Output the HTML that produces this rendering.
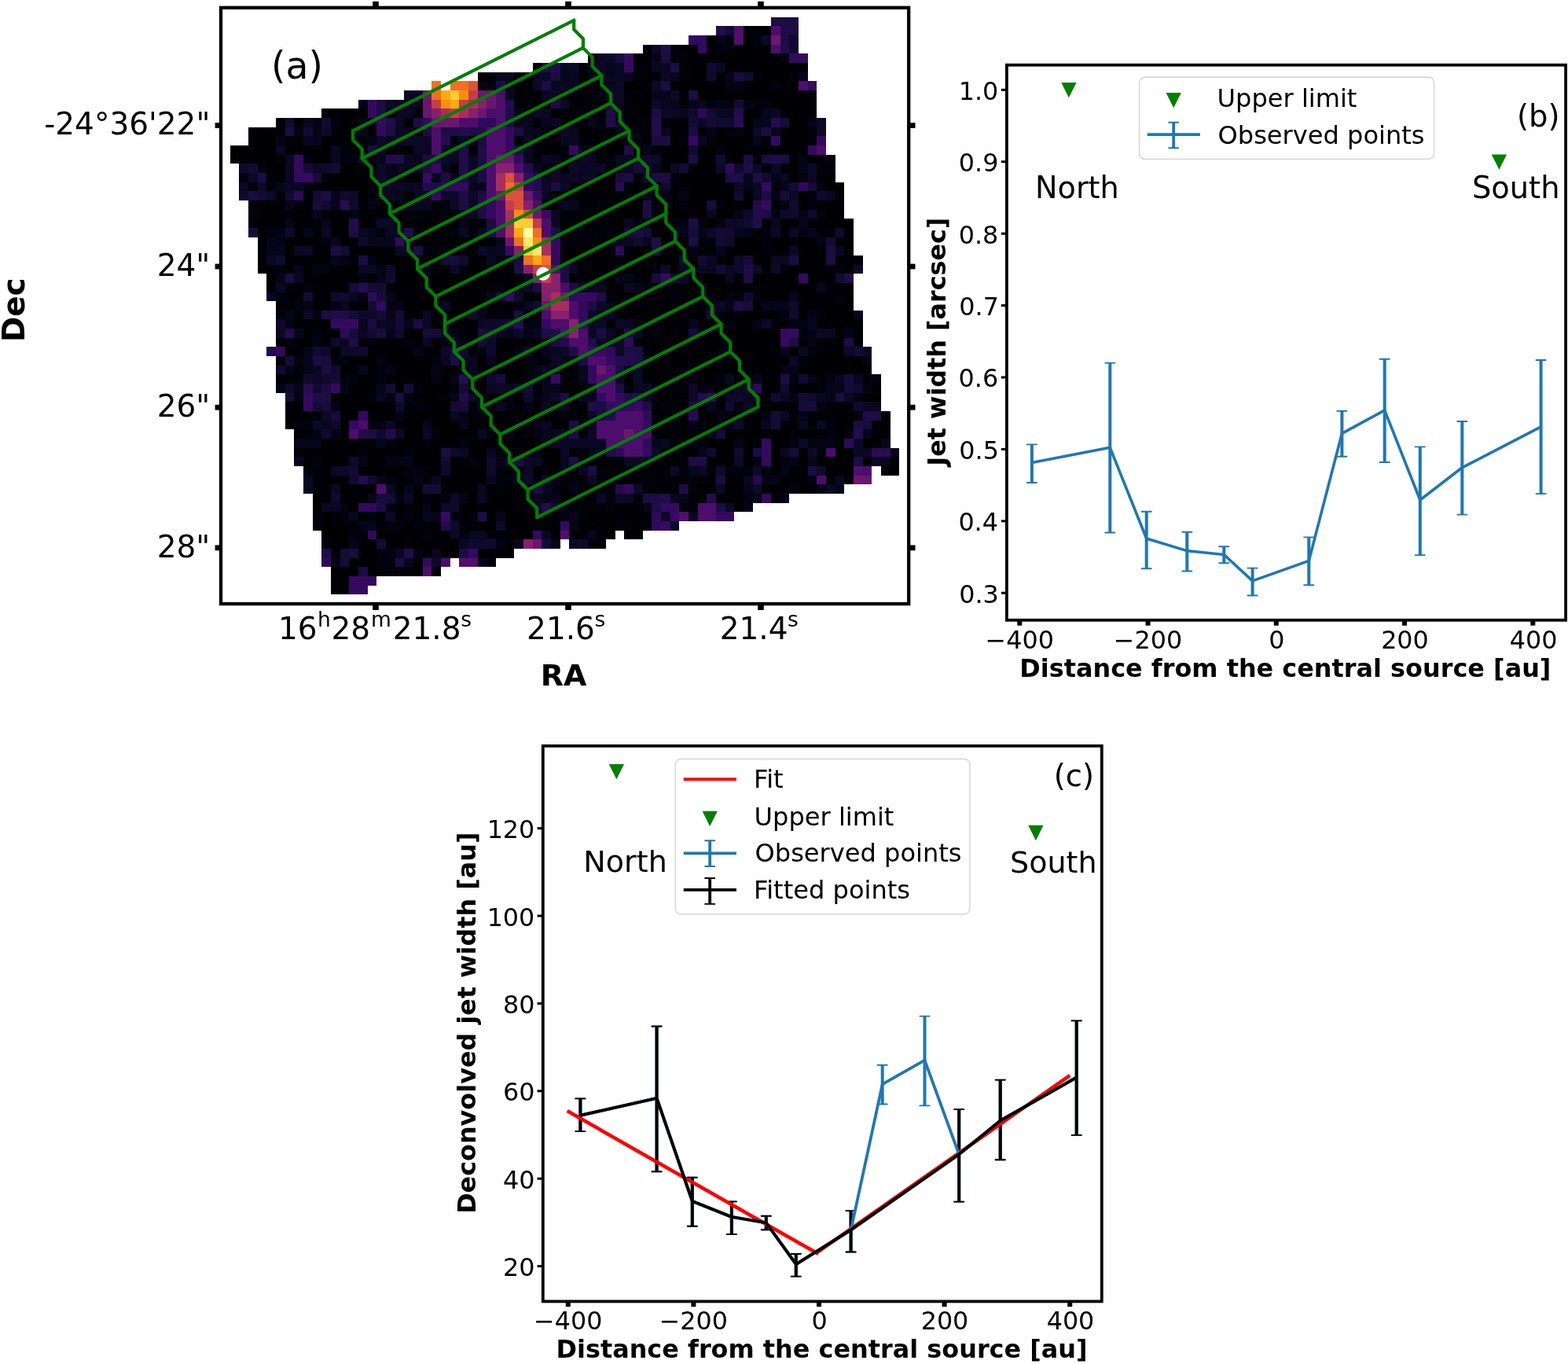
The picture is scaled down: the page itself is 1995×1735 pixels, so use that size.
<!DOCTYPE html>
<html><head><meta charset="utf-8"><title>Jet width figure</title>
<style>html,body{margin:0;padding:0;background:#fff}svg{display:block}text{font-family:"DejaVu Sans","Liberation Sans",sans-serif;fill:#000}</style>
</head><body>
<svg width="1995" height="1735" viewBox="0 0 1995 1735">
<rect width="1995" height="1735" fill="#fff"/>
<g shape-rendering="crispEdges">
<path fill="#000004" d="M946 33.32h11.67v11.66h-11.67zM969.33 33.32h11.67v11.66h-11.67zM946 44.98h11.67v11.66h-11.67zM817.67 56.65h11.67v11.66h-11.67zM876 56.65h11.67v11.66h-11.67zM899.33 56.65h11.67v11.66h-11.67zM934.33 56.65h23.33v11.66h-23.33zM887.67 68.31h105v11.66h-105zM677.67 79.97h11.67v11.66h-11.67zM876 79.97h23.33v11.66h-23.33zM922.67 79.97h105v11.66h-105zM654.33 91.63h11.67v11.66h-11.67zM736 91.63h11.67v11.66h-11.67zM829.33 91.63h11.67v11.66h-11.67zM876 91.63h23.33v11.66h-23.33zM969.33 91.63h35v11.66h-35zM747.67 103.29h11.67v11.66h-11.67zM876 103.29h46.67v11.66h-46.67zM946 103.29h35v11.66h-35zM992.67 103.29h23.33v11.66h-23.33zM864.33 114.95h11.67v11.66h-11.67zM899.33 114.95h93.33v11.66h-93.33zM1004.33 114.95h11.67v11.66h-11.67zM654.33 126.62h11.67v11.66h-11.67zM677.67 126.62h11.67v11.66h-11.67zM747.67 126.62h11.67v11.66h-11.67zM981 126.62h35v11.66h-35zM1027.67 126.62h11.67v11.66h-11.67zM409.33 138.28h58.33v11.66h-58.33zM491 138.28h11.67v11.66h-11.67zM666 138.28h11.67v11.66h-11.67zM747.67 138.28h11.67v11.66h-11.67zM806 138.28h23.33v11.66h-23.33zM946 138.28h11.67v11.66h-11.67zM1004.33 138.28h23.33v11.66h-23.33zM374.33 149.94h11.67v11.66h-11.67zM432.67 149.94h11.67v11.66h-11.67zM794.33 149.94h11.67v11.66h-11.67zM841 149.94h11.67v11.66h-11.67zM946 149.94h11.67v11.66h-11.67zM1004.33 149.94h23.33v11.66h-23.33zM327.67 161.6h35v11.66h-35zM432.67 161.6h11.67v11.66h-11.67zM747.67 161.6h11.67v11.66h-11.67zM887.67 161.6h11.67v11.66h-11.67zM911 161.6h11.67v11.66h-11.67zM1004.33 161.6h11.67v11.66h-11.67zM316 173.26h35v11.66h-35zM362.67 173.26h23.33v11.66h-23.33zM409.33 173.26h58.33v11.66h-58.33zM771 173.26h23.33v11.66h-23.33zM817.67 173.26h11.67v11.66h-11.67zM852.67 173.26h11.67v11.66h-11.67zM911 173.26h46.67v11.66h-46.67zM992.67 173.26h35v11.66h-35zM292.67 184.92h58.33v11.66h-58.33zM362.67 184.92h58.33v11.66h-58.33zM444.33 184.92h23.33v11.66h-23.33zM502.67 184.92h11.67v11.66h-11.67zM701 184.92h11.67v11.66h-11.67zM771 184.92h23.33v11.66h-23.33zM841 184.92h35v11.66h-35zM887.67 184.92h23.33v11.66h-23.33zM922.67 184.92h23.33v11.66h-23.33zM969.33 184.92h58.33v11.66h-58.33zM304.33 196.58h46.67v11.66h-46.67zM397.67 196.58h23.33v11.66h-23.33zM841 196.58h35v11.66h-35zM887.67 196.58h11.67v11.66h-11.67zM934.33 196.58h11.67v11.66h-11.67zM1004.33 196.58h11.67v11.66h-11.67zM1027.67 196.58h23.33v11.66h-23.33zM339.33 208.25h23.33v11.66h-23.33zM444.33 208.25h35v11.66h-35zM712.67 208.25h11.67v11.66h-11.67zM782.67 208.25h11.67v11.66h-11.67zM841 208.25h11.67v11.66h-11.67zM887.67 208.25h23.33v11.66h-23.33zM969.33 208.25h11.67v11.66h-11.67zM992.67 208.25h23.33v11.66h-23.33zM339.33 219.91h23.33v11.66h-23.33zM421 219.91h58.33v11.66h-58.33zM864.33 219.91h58.33v11.66h-58.33zM1004.33 219.91h11.67v11.66h-11.67zM1039.33 219.91h23.33v11.66h-23.33zM409.33 231.57h70v11.66h-70zM736 231.57h11.67v11.66h-11.67zM759.33 231.57h11.67v11.66h-11.67zM806 231.57h35v11.66h-35zM852.67 231.57h11.67v11.66h-11.67zM876 231.57h58.33v11.66h-58.33zM1051 231.57h23.33v11.66h-23.33zM386 243.23h11.67v11.66h-11.67zM456 243.23h11.67v11.66h-11.67zM736 243.23h11.67v11.66h-11.67zM782.67 243.23h35v11.66h-35zM829.33 243.23h11.67v11.66h-11.67zM852.67 243.23h11.67v11.66h-11.67zM876 243.23h58.33v11.66h-58.33zM946 243.23h11.67v11.66h-11.67zM1016 243.23h11.67v11.66h-11.67zM339.33 254.89h23.33v11.66h-23.33zM491 254.89h11.67v11.66h-11.67zM782.67 254.89h35v11.66h-35zM841 254.89h23.33v11.66h-23.33zM876 254.89h23.33v11.66h-23.33zM922.67 254.89h11.67v11.66h-11.67zM946 254.89h11.67v11.66h-11.67zM981 254.89h11.67v11.66h-11.67zM1016 254.89h11.67v11.66h-11.67zM1039.33 254.89h35v11.66h-35zM339.33 266.55h23.33v11.66h-23.33zM374.33 266.55h23.33v11.66h-23.33zM421 266.55h11.67v11.66h-11.67zM467.67 266.55h11.67v11.66h-11.67zM502.67 266.55h11.67v11.66h-11.67zM782.67 266.55h35v11.66h-35zM841 266.55h35v11.66h-35zM887.67 266.55h11.67v11.66h-11.67zM911 266.55h23.33v11.66h-23.33zM1051 266.55h23.33v11.66h-23.33zM327.67 278.22h11.67v11.66h-11.67zM351 278.22h11.67v11.66h-11.67zM374.33 278.22h11.67v11.66h-11.67zM421 278.22h23.33v11.66h-23.33zM456 278.22h23.33v11.66h-23.33zM514.33 278.22h11.67v11.66h-11.67zM736 278.22h11.67v11.66h-11.67zM771 278.22h23.33v11.66h-23.33zM817.67 278.22h35v11.66h-35zM899.33 278.22h11.67v11.66h-11.67zM969.33 278.22h11.67v11.66h-11.67zM992.67 278.22h23.33v11.66h-23.33zM1039.33 278.22h46.67v11.66h-46.67zM327.67 289.88h11.67v11.66h-11.67zM374.33 289.88h11.67v11.66h-11.67zM397.67 289.88h11.67v11.66h-11.67zM421 289.88h23.33v11.66h-23.33zM712.67 289.88h11.67v11.66h-11.67zM841 289.88h11.67v11.66h-11.67zM992.67 289.88h11.67v11.66h-11.67zM1074.33 289.88h11.67v11.66h-11.67zM327.67 301.54h11.67v11.66h-11.67zM362.67 301.54h11.67v11.66h-11.67zM386 301.54h23.33v11.66h-23.33zM432.67 301.54h23.33v11.66h-23.33zM561 301.54h46.67v11.66h-46.67zM759.33 301.54h11.67v11.66h-11.67zM841 301.54h11.67v11.66h-11.67zM864.33 301.54h11.67v11.66h-11.67zM934.33 301.54h35v11.66h-35zM981 301.54h58.33v11.66h-58.33zM1062.67 301.54h23.33v11.66h-23.33zM327.67 313.2h11.67v11.66h-11.67zM362.67 313.2h11.67v11.66h-11.67zM397.67 313.2h23.33v11.66h-23.33zM444.33 313.2h35v11.66h-35zM712.67 313.2h11.67v11.66h-11.67zM806 313.2h23.33v11.66h-23.33zM841 313.2h35v11.66h-35zM899.33 313.2h11.67v11.66h-11.67zM922.67 313.2h46.67v11.66h-46.67zM981 313.2h11.67v11.66h-11.67zM1016 313.2h11.67v11.66h-11.67zM1039.33 313.2h11.67v11.66h-11.67zM1074.33 313.2h11.67v11.66h-11.67zM327.67 324.86h11.67v11.66h-11.67zM362.67 324.86h23.33v11.66h-23.33zM397.67 324.86h23.33v11.66h-23.33zM444.33 324.86h11.67v11.66h-11.67zM479.33 324.86h81.67v11.66h-81.67zM631 324.86h11.67v11.66h-11.67zM724.33 324.86h11.67v11.66h-11.67zM794.33 324.86h70v11.66h-70zM876 324.86h11.67v11.66h-11.67zM922.67 324.86h11.67v11.66h-11.67zM957.67 324.86h23.33v11.66h-23.33zM1016 324.86h11.67v11.66h-11.67zM1039.33 324.86h11.67v11.66h-11.67zM1062.67 324.86h35v11.66h-35zM327.67 336.52h11.67v11.66h-11.67zM362.67 336.52h11.67v11.66h-11.67zM386 336.52h11.67v11.66h-11.67zM421 336.52h35v11.66h-35zM502.67 336.52h35v11.66h-35zM596 336.52h23.33v11.66h-23.33zM642.67 336.52h11.67v11.66h-11.67zM794.33 336.52h35v11.66h-35zM852.67 336.52h11.67v11.66h-11.67zM969.33 336.52h11.67v11.66h-11.67zM1004.33 336.52h58.33v11.66h-58.33zM1074.33 336.52h11.67v11.66h-11.67zM339.33 348.18h11.67v11.66h-11.67zM386 348.18h46.67v11.66h-46.67zM444.33 348.18h11.67v11.66h-11.67zM502.67 348.18h35v11.66h-35zM549.33 348.18h46.67v11.66h-46.67zM619.33 348.18h11.67v11.66h-11.67zM642.67 348.18h11.67v11.66h-11.67zM724.33 348.18h11.67v11.66h-11.67zM817.67 348.18h11.67v11.66h-11.67zM876 348.18h11.67v11.66h-11.67zM899.33 348.18h23.33v11.66h-23.33zM934.33 348.18h11.67v11.66h-11.67zM957.67 348.18h23.33v11.66h-23.33zM992.67 348.18h23.33v11.66h-23.33zM1027.67 348.18h35v11.66h-35zM339.33 359.85h11.67v11.66h-11.67zM374.33 359.85h11.67v11.66h-11.67zM397.67 359.85h46.67v11.66h-46.67zM502.67 359.85h105v11.66h-105zM642.67 359.85h11.67v11.66h-11.67zM782.67 359.85h11.67v11.66h-11.67zM876 359.85h11.67v11.66h-11.67zM899.33 359.85h46.67v11.66h-46.67zM981 359.85h46.67v11.66h-46.67zM362.67 371.51h23.33v11.66h-23.33zM409.33 371.51h11.67v11.66h-11.67zM502.67 371.51h35v11.66h-35zM561 371.51h58.33v11.66h-58.33zM666 371.51h23.33v11.66h-23.33zM782.67 371.51h11.67v11.66h-11.67zM876 371.51h23.33v11.66h-23.33zM981 371.51h23.33v11.66h-23.33zM1016 371.51h11.67v11.66h-11.67zM1039.33 371.51h23.33v11.66h-23.33zM1074.33 371.51h11.67v11.66h-11.67zM351 383.17h11.67v11.66h-11.67zM397.67 383.17h23.33v11.66h-23.33zM456 383.17h11.67v11.66h-11.67zM514.33 383.17h46.67v11.66h-46.67zM572.67 383.17h23.33v11.66h-23.33zM619.33 383.17h11.67v11.66h-11.67zM642.67 383.17h11.67v11.66h-11.67zM794.33 383.17h11.67v11.66h-11.67zM841 383.17h11.67v11.66h-11.67zM876 383.17h23.33v11.66h-23.33zM957.67 383.17h11.67v11.66h-11.67zM1016 383.17h70v11.66h-70zM526 394.83h11.67v11.66h-11.67zM561 394.83h35v11.66h-35zM619.33 394.83h11.67v11.66h-11.67zM666 394.83h23.33v11.66h-23.33zM794.33 394.83h11.67v11.66h-11.67zM817.67 394.83h11.67v11.66h-11.67zM876 394.83h23.33v11.66h-23.33zM922.67 394.83h11.67v11.66h-11.67zM946 394.83h46.67v11.66h-46.67zM1016 394.83h11.67v11.66h-11.67zM1051 394.83h35v11.66h-35zM397.67 406.49h23.33v11.66h-23.33zM549.33 406.49h11.67v11.66h-11.67zM572.67 406.49h35v11.66h-35zM771 406.49h11.67v11.66h-11.67zM829.33 406.49h11.67v11.66h-11.67zM887.67 406.49h23.33v11.66h-23.33zM934.33 406.49h23.33v11.66h-23.33zM992.67 406.49h11.67v11.66h-11.67zM1039.33 406.49h11.67v11.66h-11.67zM1062.67 406.49h23.33v11.66h-23.33zM386 418.15h11.67v11.66h-11.67zM409.33 418.15h23.33v11.66h-23.33zM514.33 418.15h23.33v11.66h-23.33zM596 418.15h11.67v11.66h-11.67zM841 418.15h11.67v11.66h-11.67zM899.33 418.15h93.33v11.66h-93.33zM1086 418.15h11.67v11.66h-11.67zM351 429.82h11.67v11.66h-11.67zM374.33 429.82h23.33v11.66h-23.33zM409.33 429.82h11.67v11.66h-11.67zM479.33 429.82h23.33v11.66h-23.33zM526 429.82h11.67v11.66h-11.67zM549.33 429.82h11.67v11.66h-11.67zM596 429.82h11.67v11.66h-11.67zM631 429.82h46.67v11.66h-46.67zM829.33 429.82h11.67v11.66h-11.67zM864.33 429.82h11.67v11.66h-11.67zM899.33 429.82h93.33v11.66h-93.33zM1016 429.82h11.67v11.66h-11.67zM1051 429.82h11.67v11.66h-11.67zM362.67 441.48h23.33v11.66h-23.33zM421 441.48h11.67v11.66h-11.67zM467.67 441.48h58.33v11.66h-58.33zM537.67 441.48h23.33v11.66h-23.33zM596 441.48h11.67v11.66h-11.67zM631 441.48h23.33v11.66h-23.33zM677.67 441.48h11.67v11.66h-11.67zM829.33 441.48h11.67v11.66h-11.67zM876 441.48h35v11.66h-35zM922.67 441.48h70v11.66h-70zM1039.33 441.48h35v11.66h-35zM444.33 453.14h35v11.66h-35zM491 453.14h58.33v11.66h-58.33zM607.67 453.14h11.67v11.66h-11.67zM631 453.14h35v11.66h-35zM829.33 453.14h11.67v11.66h-11.67zM852.67 453.14h58.33v11.66h-58.33zM922.67 453.14h23.33v11.66h-23.33zM957.67 453.14h23.33v11.66h-23.33zM992.67 453.14h11.67v11.66h-11.67zM1027.67 453.14h46.67v11.66h-46.67zM1086 453.14h11.67v11.66h-11.67zM432.67 464.8h23.33v11.66h-23.33zM502.67 464.8h46.67v11.66h-46.67zM561 464.8h23.33v11.66h-23.33zM631 464.8h35v11.66h-35zM852.67 464.8h11.67v11.66h-11.67zM887.67 464.8h70v11.66h-70zM969.33 464.8h23.33v11.66h-23.33zM1016 464.8h58.33v11.66h-58.33zM1086 464.8h23.33v11.66h-23.33zM351 476.46h23.33v11.66h-23.33zM456 476.46h23.33v11.66h-23.33zM491 476.46h23.33v11.66h-23.33zM526 476.46h23.33v11.66h-23.33zM561 476.46h11.67v11.66h-11.67zM642.67 476.46h11.67v11.66h-11.67zM794.33 476.46h11.67v11.66h-11.67zM899.33 476.46h11.67v11.66h-11.67zM934.33 476.46h23.33v11.66h-23.33zM969.33 476.46h23.33v11.66h-23.33zM444.33 488.12h35v11.66h-35zM502.67 488.12h11.67v11.66h-11.67zM549.33 488.12h23.33v11.66h-23.33zM607.67 488.12h11.67v11.66h-11.67zM736 488.12h11.67v11.66h-11.67zM829.33 488.12h11.67v11.66h-11.67zM911 488.12h23.33v11.66h-23.33zM969.33 488.12h11.67v11.66h-11.67zM1016 488.12h23.33v11.66h-23.33zM432.67 499.78h35v11.66h-35zM537.67 499.78h23.33v11.66h-23.33zM631 499.78h11.67v11.66h-11.67zM654.33 499.78h11.67v11.66h-11.67zM911 499.78h11.67v11.66h-11.67zM1097.67 499.78h23.33v11.66h-23.33zM362.67 511.45h23.33v11.66h-23.33zM432.67 511.45h58.33v11.66h-58.33zM537.67 511.45h35v11.66h-35zM654.33 511.45h11.67v11.66h-11.67zM677.67 511.45h11.67v11.66h-11.67zM701 511.45h11.67v11.66h-11.67zM887.67 511.45h11.67v11.66h-11.67zM957.67 511.45h58.33v11.66h-58.33zM1051 511.45h11.67v11.66h-11.67zM1074.33 511.45h11.67v11.66h-11.67zM362.67 523.11h35v11.66h-35zM432.67 523.11h23.33v11.66h-23.33zM479.33 523.11h11.67v11.66h-11.67zM514.33 523.11h23.33v11.66h-23.33zM549.33 523.11h23.33v11.66h-23.33zM619.33 523.11h35v11.66h-35zM666 523.11h23.33v11.66h-23.33zM887.67 523.11h23.33v11.66h-23.33zM934.33 523.11h11.67v11.66h-11.67zM1027.67 523.11h11.67v11.66h-11.67zM1062.67 523.11h23.33v11.66h-23.33zM1121 523.11h11.67v11.66h-11.67zM362.67 534.77h11.67v11.66h-11.67zM432.67 534.77h11.67v11.66h-11.67zM502.67 534.77h35v11.66h-35zM549.33 534.77h35v11.66h-35zM596 534.77h11.67v11.66h-11.67zM619.33 534.77h35v11.66h-35zM701 534.77h23.33v11.66h-23.33zM841 534.77h11.67v11.66h-11.67zM899.33 534.77h23.33v11.66h-23.33zM946 534.77h23.33v11.66h-23.33zM1004.33 534.77h11.67v11.66h-11.67zM1062.67 534.77h23.33v11.66h-23.33zM1109.33 534.77h23.33v11.66h-23.33zM374.33 546.43h11.67v11.66h-11.67zM514.33 546.43h23.33v11.66h-23.33zM561 546.43h35v11.66h-35zM631 546.43h11.67v11.66h-11.67zM654.33 546.43h11.67v11.66h-11.67zM841 546.43h11.67v11.66h-11.67zM864.33 546.43h11.67v11.66h-11.67zM934.33 546.43h70v11.66h-70zM1016 546.43h35v11.66h-35zM1062.67 546.43h11.67v11.66h-11.67zM1121 546.43h11.67v11.66h-11.67zM409.33 558.09h35v11.66h-35zM456 558.09h11.67v11.66h-11.67zM502.67 558.09h35v11.66h-35zM549.33 558.09h35v11.66h-35zM619.33 558.09h23.33v11.66h-23.33zM654.33 558.09h23.33v11.66h-23.33zM899.33 558.09h35v11.66h-35zM946 558.09h11.67v11.66h-11.67zM981 558.09h23.33v11.66h-23.33zM1097.67 558.09h11.67v11.66h-11.67zM386 569.75h11.67v11.66h-11.67zM409.33 569.75h46.67v11.66h-46.67zM467.67 569.75h46.67v11.66h-46.67zM526 569.75h35v11.66h-35zM596 569.75h23.33v11.66h-23.33zM666 569.75h11.67v11.66h-11.67zM864.33 569.75h23.33v11.66h-23.33zM911 569.75h23.33v11.66h-23.33zM946 569.75h11.67v11.66h-11.67zM981 569.75h11.67v11.66h-11.67zM1016 569.75h11.67v11.66h-11.67zM1062.67 569.75h23.33v11.66h-23.33zM386 581.42h11.67v11.66h-11.67zM409.33 581.42h35v11.66h-35zM467.67 581.42h23.33v11.66h-23.33zM526 581.42h23.33v11.66h-23.33zM572.67 581.42h23.33v11.66h-23.33zM607.67 581.42h11.67v11.66h-11.67zM689.33 581.42h23.33v11.66h-23.33zM759.33 581.42h23.33v11.66h-23.33zM911 581.42h23.33v11.66h-23.33zM946 581.42h11.67v11.66h-11.67zM981 581.42h11.67v11.66h-11.67zM1016 581.42h11.67v11.66h-11.67zM1039.33 581.42h46.67v11.66h-46.67zM1097.67 581.42h11.67v11.66h-11.67zM1132.67 581.42h11.67v11.66h-11.67zM409.33 593.08h11.67v11.66h-11.67zM456 593.08h58.33v11.66h-58.33zM572.67 593.08h46.67v11.66h-46.67zM677.67 593.08h35v11.66h-35zM724.33 593.08h11.67v11.66h-11.67zM817.67 593.08h11.67v11.66h-11.67zM981 593.08h11.67v11.66h-11.67zM1004.33 593.08h23.33v11.66h-23.33zM1051 593.08h35v11.66h-35zM1121 593.08h23.33v11.66h-23.33zM397.67 604.74h35v11.66h-35zM502.67 604.74h11.67v11.66h-11.67zM561 604.74h58.33v11.66h-58.33zM782.67 604.74h11.67v11.66h-11.67zM899.33 604.74h11.67v11.66h-11.67zM934.33 604.74h11.67v11.66h-11.67zM992.67 604.74h35v11.66h-35zM1051 604.74h11.67v11.66h-11.67zM1074.33 604.74h11.67v11.66h-11.67zM397.67 616.4h23.33v11.66h-23.33zM432.67 616.4h23.33v11.66h-23.33zM467.67 616.4h11.67v11.66h-11.67zM502.67 616.4h11.67v11.66h-11.67zM526 616.4h11.67v11.66h-11.67zM561 616.4h46.67v11.66h-46.67zM619.33 616.4h11.67v11.66h-11.67zM642.67 616.4h35v11.66h-35zM712.67 616.4h11.67v11.66h-11.67zM736 616.4h23.33v11.66h-23.33zM887.67 616.4h11.67v11.66h-11.67zM922.67 616.4h23.33v11.66h-23.33zM969.33 616.4h35v11.66h-35zM1016 616.4h23.33v11.66h-23.33zM397.67 628.06h23.33v11.66h-23.33zM432.67 628.06h35v11.66h-35zM526 628.06h11.67v11.66h-11.67zM549.33 628.06h11.67v11.66h-11.67zM596 628.06h11.67v11.66h-11.67zM619.33 628.06h58.33v11.66h-58.33zM724.33 628.06h11.67v11.66h-11.67zM911 628.06h35v11.66h-35zM981 628.06h11.67v11.66h-11.67zM444.33 639.72h11.67v11.66h-11.67zM502.67 639.72h11.67v11.66h-11.67zM526 639.72h11.67v11.66h-11.67zM584.33 639.72h70v11.66h-70zM666 639.72h11.67v11.66h-11.67zM934.33 639.72h11.67v11.66h-11.67zM409.33 651.38h23.33v11.66h-23.33zM456 651.38h11.67v11.66h-11.67zM526 651.38h11.67v11.66h-11.67zM584.33 651.38h11.67v11.66h-11.67zM619.33 651.38h11.67v11.66h-11.67zM642.67 651.38h46.67v11.66h-46.67zM701 651.38h11.67v11.66h-11.67zM747.67 651.38h11.67v11.66h-11.67zM782.67 651.38h23.33v11.66h-23.33zM817.67 651.38h11.67v11.66h-11.67zM409.33 663.05h46.67v11.66h-46.67zM549.33 663.05h11.67v11.66h-11.67zM584.33 663.05h11.67v11.66h-11.67zM607.67 663.05h23.33v11.66h-23.33zM642.67 663.05h70v11.66h-70zM759.33 663.05h11.67v11.66h-11.67zM409.33 674.71h35v11.66h-35zM479.33 674.71h58.33v11.66h-58.33zM549.33 674.71h23.33v11.66h-23.33zM654.33 674.71h23.33v11.66h-23.33zM701 674.71h11.67v11.66h-11.67zM759.33 674.71h23.33v11.66h-23.33zM794.33 674.71h11.67v11.66h-11.67zM432.67 686.37h11.67v11.66h-11.67zM467.67 686.37h11.67v11.66h-11.67zM491 686.37h23.33v11.66h-23.33zM526 686.37h46.67v11.66h-46.67zM642.67 686.37h11.67v11.66h-11.67zM747.67 686.37h23.33v11.66h-23.33zM456 698.03h23.33v11.66h-23.33zM537.67 698.03h11.67v11.66h-11.67zM561 698.03h23.33v11.66h-23.33zM607.67 698.03h11.67v11.66h-11.67zM631 698.03h23.33v11.66h-23.33zM444.33 709.69h35v11.66h-35zM526 709.69h11.67v11.66h-11.67zM619.33 709.69h11.67v11.66h-11.67zM432.67 721.35h23.33v11.66h-23.33zM467.67 721.35h11.67v11.66h-11.67zM502.67 721.35h35v11.66h-35zM421 733.02h23.33v11.66h-23.33zM421 744.68h23.33v11.66h-23.33z"/>
<path fill="#010005" d="M806 68.31h11.67v11.66h-11.67zM864.33 79.97h11.67v11.66h-11.67zM666 103.29h11.67v11.66h-11.67zM736 103.29h11.67v11.66h-11.67zM794.33 103.29h23.33v11.66h-23.33zM677.67 114.95h11.67v11.66h-11.67zM736 114.95h11.67v11.66h-11.67zM992.67 114.95h11.67v11.66h-11.67zM689.33 126.62h11.67v11.66h-11.67zM759.33 126.62h11.67v11.66h-11.67zM817.67 126.62h11.67v11.66h-11.67zM1016 126.62h11.67v11.66h-11.67zM701 138.28h11.67v11.66h-11.67zM514.33 149.94h11.67v11.66h-11.67zM724.33 149.94h11.67v11.66h-11.67zM852.67 149.94h11.67v11.66h-11.67zM736 161.6h11.67v11.66h-11.67zM852.67 161.6h11.67v11.66h-11.67zM946 161.6h11.67v11.66h-11.67zM759.33 173.26h11.67v11.66h-11.67zM491 184.92h11.67v11.66h-11.67zM514.33 184.92h11.67v11.66h-11.67zM596 184.92h11.67v11.66h-11.67zM292.67 196.58h11.67v11.66h-11.67zM899.33 196.58h11.67v11.66h-11.67zM957.67 196.58h11.67v11.66h-11.67zM514.33 219.91h23.33v11.66h-23.33zM514.33 243.23h11.67v11.66h-11.67zM759.33 243.23h11.67v11.66h-11.67zM316 254.89h11.67v11.66h-11.67zM456 254.89h11.67v11.66h-11.67zM479.33 254.89h11.67v11.66h-11.67zM502.67 254.89h11.67v11.66h-11.67zM689.33 254.89h11.67v11.66h-11.67zM327.67 266.55h11.67v11.66h-11.67zM747.67 266.55h11.67v11.66h-11.67zM339.33 278.22h11.67v11.66h-11.67zM561 278.22h11.67v11.66h-11.67zM607.67 278.22h11.67v11.66h-11.67zM712.67 278.22h11.67v11.66h-11.67zM1027.67 278.22h11.67v11.66h-11.67zM526 301.54h11.67v11.66h-11.67zM607.67 301.54h11.67v11.66h-11.67zM491 313.2h11.67v11.66h-11.67zM572.67 313.2h11.67v11.66h-11.67zM724.33 313.2h11.67v11.66h-11.67zM747.67 313.2h11.67v11.66h-11.67zM992.67 313.2h11.67v11.66h-11.67zM1027.67 313.2h11.67v11.66h-11.67zM747.67 324.86h23.33v11.66h-23.33zM1027.67 324.86h11.67v11.66h-11.67zM561 336.52h11.67v11.66h-11.67zM631 336.52h11.67v11.66h-11.67zM467.67 348.18h11.67v11.66h-11.67zM607.67 348.18h11.67v11.66h-11.67zM747.67 348.18h35v11.66h-35zM887.67 348.18h11.67v11.66h-11.67zM981 348.18h11.67v11.66h-11.67zM607.67 359.85h11.67v11.66h-11.67zM969.33 359.85h11.67v11.66h-11.67zM397.67 371.51h11.67v11.66h-11.67zM794.33 371.51h11.67v11.66h-11.67zM864.33 371.51h11.67v11.66h-11.67zM829.33 394.83h11.67v11.66h-11.67zM374.33 406.49h11.67v11.66h-11.67zM864.33 406.49h11.67v11.66h-11.67zM1039.33 429.82h11.67v11.66h-11.67zM852.67 441.48h11.67v11.66h-11.67zM981 453.14h11.67v11.66h-11.67zM467.67 464.8h11.67v11.66h-11.67zM724.33 464.8h11.67v11.66h-11.67zM817.67 464.8h23.33v11.66h-23.33zM957.67 464.8h11.67v11.66h-11.67zM654.33 476.46h11.67v11.66h-11.67zM841 476.46h11.67v11.66h-11.67zM887.67 476.46h11.67v11.66h-11.67zM724.33 488.12h11.67v11.66h-11.67zM526 499.78h11.67v11.66h-11.67zM619.33 499.78h11.67v11.66h-11.67zM642.67 499.78h11.67v11.66h-11.67zM724.33 499.78h11.67v11.66h-11.67zM864.33 499.78h11.67v11.66h-11.67zM864.33 511.45h11.67v11.66h-11.67zM911 511.45h11.67v11.66h-11.67zM1062.67 511.45h11.67v11.66h-11.67zM467.67 523.11h11.67v11.66h-11.67zM736 523.11h11.67v11.66h-11.67zM829.33 523.11h23.33v11.66h-23.33zM957.67 523.11h11.67v11.66h-11.67zM829.33 534.77h11.67v11.66h-11.67zM864.33 534.77h11.67v11.66h-11.67zM992.67 534.77h11.67v11.66h-11.67zM386 546.43h11.67v11.66h-11.67zM922.67 546.43h11.67v11.66h-11.67zM677.67 558.09h11.67v11.66h-11.67zM864.33 558.09h11.67v11.66h-11.67zM701 569.75h11.67v11.66h-11.67zM724.33 569.75h11.67v11.66h-11.67zM841 569.75h23.33v11.66h-23.33zM736 581.42h11.67v11.66h-11.67zM829.33 581.42h46.67v11.66h-46.67zM899.33 581.42h11.67v11.66h-11.67zM782.67 593.08h11.67v11.66h-11.67zM806 604.74h11.67v11.66h-11.67zM841 604.74h11.67v11.66h-11.67zM771 616.4h11.67v11.66h-11.67zM817.67 616.4h46.67v11.66h-46.67zM899.33 616.4h11.67v11.66h-11.67zM712.67 628.06h11.67v11.66h-11.67zM736 628.06h11.67v11.66h-11.67zM876 628.06h11.67v11.66h-11.67zM759.33 639.72h11.67v11.66h-11.67zM782.67 639.72h23.33v11.66h-23.33zM479.33 651.38h11.67v11.66h-11.67zM502.67 651.38h11.67v11.66h-11.67zM806 651.38h11.67v11.66h-11.67zM479.33 663.05h11.67v11.66h-11.67zM514.33 663.05h11.67v11.66h-11.67zM596 663.05h11.67v11.66h-11.67zM747.67 663.05h11.67v11.66h-11.67zM771 663.05h11.67v11.66h-11.67zM806 663.05h11.67v11.66h-11.67zM736 674.71h11.67v11.66h-11.67zM421 686.37h11.67v11.66h-11.67zM572.67 686.37h11.67v11.66h-11.67zM619.33 698.03h11.67v11.66h-11.67zM421 721.35h11.67v11.66h-11.67zM479.33 721.35h11.67v11.66h-11.67zM549.33 721.35h11.67v11.66h-11.67z"/>
<path fill="#010106" d="M899.33 44.98h11.67v11.66h-11.67zM817.67 68.31h11.67v11.66h-11.67zM876 68.31h11.67v11.66h-11.67zM736 79.97h11.67v11.66h-11.67zM817.67 79.97h11.67v11.66h-11.67zM607.67 91.63h11.67v11.66h-11.67zM666 91.63h11.67v11.66h-11.67zM817.67 91.63h11.67v11.66h-11.67zM864.33 91.63h11.67v11.66h-11.67zM654.33 103.29h11.67v11.66h-11.67zM817.67 103.29h11.67v11.66h-11.67zM852.67 103.29h23.33v11.66h-23.33zM654.33 114.95h23.33v11.66h-23.33zM712.67 114.95h11.67v11.66h-11.67zM817.67 114.95h11.67v11.66h-11.67zM887.67 114.95h11.67v11.66h-11.67zM1016 114.95h11.67v11.66h-11.67zM724.33 126.62h11.67v11.66h-11.67zM806 126.62h11.67v11.66h-11.67zM794.33 138.28h11.67v11.66h-11.67zM1027.67 138.28h11.67v11.66h-11.67zM351 149.94h11.67v11.66h-11.67zM444.33 149.94h11.67v11.66h-11.67zM712.67 149.94h11.67v11.66h-11.67zM736 149.94h11.67v11.66h-11.67zM806 149.94h11.67v11.66h-11.67zM864.33 149.94h11.67v11.66h-11.67zM316 161.6h11.67v11.66h-11.67zM467.67 161.6h11.67v11.66h-11.67zM689.33 161.6h11.67v11.66h-11.67zM771 161.6h11.67v11.66h-11.67zM817.67 161.6h11.67v11.66h-11.67zM1016 161.6h11.67v11.66h-11.67zM654.33 173.26h11.67v11.66h-11.67zM689.33 173.26h11.67v11.66h-11.67zM747.67 173.26h11.67v11.66h-11.67zM969.33 173.26h11.67v11.66h-11.67zM1027.67 173.26h11.67v11.66h-11.67zM712.67 184.92h11.67v11.66h-11.67zM432.67 208.25h11.67v11.66h-11.67zM572.67 208.25h11.67v11.66h-11.67zM409.33 219.91h11.67v11.66h-11.67zM771 219.91h11.67v11.66h-11.67zM747.67 231.57h11.67v11.66h-11.67zM771 231.57h11.67v11.66h-11.67zM747.67 243.23h11.67v11.66h-11.67zM1062.67 243.23h11.67v11.66h-11.67zM327.67 254.89h11.67v11.66h-11.67zM549.33 254.89h11.67v11.66h-11.67zM934.33 254.89h11.67v11.66h-11.67zM479.33 266.55h11.67v11.66h-11.67zM537.67 266.55h23.33v11.66h-23.33zM572.67 266.55h11.67v11.66h-11.67zM724.33 266.55h11.67v11.66h-11.67zM759.33 266.55h11.67v11.66h-11.67zM316 278.22h11.67v11.66h-11.67zM549.33 278.22h11.67v11.66h-11.67zM596 278.22h11.67v11.66h-11.67zM747.67 278.22h11.67v11.66h-11.67zM526 289.88h11.67v11.66h-11.67zM374.33 301.54h11.67v11.66h-11.67zM537.67 301.54h23.33v11.66h-23.33zM771 301.54h11.67v11.66h-11.67zM479.33 313.2h11.67v11.66h-11.67zM736 313.2h11.67v11.66h-11.67zM759.33 313.2h11.67v11.66h-11.67zM607.67 324.86h11.67v11.66h-11.67zM712.67 324.86h11.67v11.66h-11.67zM771 324.86h11.67v11.66h-11.67zM911 324.86h11.67v11.66h-11.67zM549.33 336.52h11.67v11.66h-11.67zM619.33 336.52h11.67v11.66h-11.67zM736 336.52h35v11.66h-35zM992.67 336.52h11.67v11.66h-11.67zM432.67 348.18h11.67v11.66h-11.67zM654.33 348.18h11.67v11.66h-11.67zM362.67 359.85h11.67v11.66h-11.67zM619.33 359.85h11.67v11.66h-11.67zM654.33 359.85h11.67v11.66h-11.67zM771 359.85h11.67v11.66h-11.67zM957.67 359.85h11.67v11.66h-11.67zM1027.67 359.85h11.67v11.66h-11.67zM537.67 371.51h11.67v11.66h-11.67zM817.67 371.51h35v11.66h-35zM911 371.51h11.67v11.66h-11.67zM969.33 371.51h11.67v11.66h-11.67zM362.67 383.17h11.67v11.66h-11.67zM596 383.17h23.33v11.66h-23.33zM782.67 383.17h11.67v11.66h-11.67zM806 383.17h35v11.66h-35zM864.33 383.17h11.67v11.66h-11.67zM374.33 394.83h11.67v11.66h-11.67zM549.33 394.83h11.67v11.66h-11.67zM852.67 406.49h11.67v11.66h-11.67zM1051 406.49h11.67v11.66h-11.67zM584.33 418.15h11.67v11.66h-11.67zM864.33 418.15h11.67v11.66h-11.67zM1062.67 418.15h11.67v11.66h-11.67zM456 429.82h11.67v11.66h-11.67zM502.67 429.82h11.67v11.66h-11.67zM1062.67 429.82h11.67v11.66h-11.67zM841 441.48h11.67v11.66h-11.67zM1004.33 441.48h11.67v11.66h-11.67zM1074.33 453.14h11.67v11.66h-11.67zM584.33 464.8h11.67v11.66h-11.67zM1074.33 464.8h11.67v11.66h-11.67zM514.33 476.46h11.67v11.66h-11.67zM607.67 476.46h11.67v11.66h-11.67zM712.67 476.46h11.67v11.66h-11.67zM864.33 476.46h11.67v11.66h-11.67zM1004.33 488.12h11.67v11.66h-11.67zM421 499.78h11.67v11.66h-11.67zM841 499.78h11.67v11.66h-11.67zM491 511.45h11.67v11.66h-11.67zM619.33 511.45h11.67v11.66h-11.67zM736 511.45h11.67v11.66h-11.67zM829.33 511.45h11.67v11.66h-11.67zM491 523.11h11.67v11.66h-11.67zM537.67 523.11h11.67v11.66h-11.67zM607.67 523.11h11.67v11.66h-11.67zM654.33 523.11h11.67v11.66h-11.67zM689.33 523.11h11.67v11.66h-11.67zM852.67 523.11h11.67v11.66h-11.67zM1039.33 523.11h23.33v11.66h-23.33zM607.67 534.77h11.67v11.66h-11.67zM1027.67 534.77h11.67v11.66h-11.67zM432.67 546.43h11.67v11.66h-11.67zM1109.33 546.43h11.67v11.66h-11.67zM444.33 558.09h11.67v11.66h-11.67zM467.67 558.09h11.67v11.66h-11.67zM596 558.09h23.33v11.66h-23.33zM642.67 558.09h11.67v11.66h-11.67zM1062.67 558.09h11.67v11.66h-11.67zM374.33 569.75h11.67v11.66h-11.67zM397.67 569.75h11.67v11.66h-11.67zM631 569.75h11.67v11.66h-11.67zM689.33 569.75h11.67v11.66h-11.67zM549.33 593.08h11.67v11.66h-11.67zM631 593.08h23.33v11.66h-23.33zM771 593.08h11.67v11.66h-11.67zM794.33 593.08h23.33v11.66h-23.33zM537.67 604.74h11.67v11.66h-11.67zM736 604.74h11.67v11.66h-11.67zM852.67 604.74h23.33v11.66h-23.33zM887.67 604.74h11.67v11.66h-11.67zM922.67 604.74h11.67v11.66h-11.67zM747.67 628.06h11.67v11.66h-11.67zM806 628.06h11.67v11.66h-11.67zM549.33 639.72h11.67v11.66h-11.67zM654.33 639.72h11.67v11.66h-11.67zM724.33 639.72h11.67v11.66h-11.67zM747.67 639.72h11.67v11.66h-11.67zM806 639.72h11.67v11.66h-11.67zM689.33 651.38h11.67v11.66h-11.67zM771 651.38h11.67v11.66h-11.67zM456 674.71h11.67v11.66h-11.67zM724.33 674.71h11.67v11.66h-11.67zM806 674.71h11.67v11.66h-11.67zM456 686.37h11.67v11.66h-11.67zM514.33 686.37h11.67v11.66h-11.67z"/>
<path fill="#010108" d="M957.67 33.32h11.67v11.66h-11.67zM864.33 56.65h11.67v11.66h-11.67zM957.67 56.65h23.33v11.66h-23.33zM747.67 68.31h11.67v11.66h-11.67zM911 91.63h11.67v11.66h-11.67zM957.67 91.63h11.67v11.66h-11.67zM759.33 103.29h11.67v11.66h-11.67zM794.33 114.95h23.33v11.66h-23.33zM666 126.62h11.67v11.66h-11.67zM736 126.62h11.67v11.66h-11.67zM794.33 126.62h11.67v11.66h-11.67zM864.33 126.62h11.67v11.66h-11.67zM712.67 138.28h23.33v11.66h-23.33zM759.33 138.28h11.67v11.66h-11.67zM957.67 138.28h11.67v11.66h-11.67zM992.67 138.28h11.67v11.66h-11.67zM677.67 149.94h11.67v11.66h-11.67zM421 161.6h11.67v11.66h-11.67zM526 161.6h11.67v11.66h-11.67zM701 161.6h11.67v11.66h-11.67zM759.33 161.6h11.67v11.66h-11.67zM864.33 161.6h11.67v11.66h-11.67zM992.67 161.6h11.67v11.66h-11.67zM677.67 173.26h11.67v11.66h-11.67zM701 173.26h11.67v11.66h-11.67zM736 173.26h11.67v11.66h-11.67zM689.33 184.92h11.67v11.66h-11.67zM946 184.92h23.33v11.66h-23.33zM351 196.58h11.67v11.66h-11.67zM677.67 196.58h11.67v11.66h-11.67zM759.33 196.58h11.67v11.66h-11.67zM922.67 196.58h11.67v11.66h-11.67zM771 208.25h11.67v11.66h-11.67zM876 208.25h11.67v11.66h-11.67zM759.33 219.91h11.67v11.66h-11.67zM806 219.91h11.67v11.66h-11.67zM316 231.57h11.67v11.66h-11.67zM339.33 231.57h11.67v11.66h-11.67zM397.67 231.57h11.67v11.66h-11.67zM724.33 231.57h11.67v11.66h-11.67zM351 243.23h11.67v11.66h-11.67zM701 243.23h35v11.66h-35zM771 243.23h11.67v11.66h-11.67zM386 254.89h11.67v11.66h-11.67zM736 254.89h23.33v11.66h-23.33zM771 254.89h11.67v11.66h-11.67zM829.33 254.89h11.67v11.66h-11.67zM362.67 266.55h11.67v11.66h-11.67zM409.33 266.55h11.67v11.66h-11.67zM432.67 266.55h11.67v11.66h-11.67zM456 266.55h11.67v11.66h-11.67zM514.33 266.55h11.67v11.66h-11.67zM736 266.55h11.67v11.66h-11.67zM771 266.55h11.67v11.66h-11.67zM876 266.55h11.67v11.66h-11.67zM386 278.22h23.33v11.66h-23.33zM502.67 278.22h11.67v11.66h-11.67zM526 278.22h23.33v11.66h-23.33zM572.67 278.22h11.67v11.66h-11.67zM759.33 278.22h11.67v11.66h-11.67zM561 289.88h11.67v11.66h-11.67zM759.33 289.88h35v11.66h-35zM829.33 289.88h11.67v11.66h-11.67zM957.67 289.88h11.67v11.66h-11.67zM1039.33 289.88h23.33v11.66h-23.33zM619.33 301.54h11.67v11.66h-11.67zM736 301.54h11.67v11.66h-11.67zM887.67 301.54h11.67v11.66h-11.67zM969.33 301.54h11.67v11.66h-11.67zM549.33 313.2h11.67v11.66h-11.67zM596 313.2h11.67v11.66h-11.67zM771 313.2h11.67v11.66h-11.67zM794.33 313.2h11.67v11.66h-11.67zM887.67 313.2h11.67v11.66h-11.67zM386 324.86h11.67v11.66h-11.67zM596 324.86h11.67v11.66h-11.67zM736 324.86h11.67v11.66h-11.67zM339.33 336.52h11.67v11.66h-11.67zM631 348.18h11.67v11.66h-11.67zM491 359.85h11.67v11.66h-11.67zM864.33 359.85h11.67v11.66h-11.67zM1051 359.85h35v11.66h-35zM771 371.51h11.67v11.66h-11.67zM1027.67 371.51h11.67v11.66h-11.67zM444.33 383.17h11.67v11.66h-11.67zM631 383.17h11.67v11.66h-11.67zM852.67 383.17h11.67v11.66h-11.67zM514.33 394.83h11.67v11.66h-11.67zM782.67 394.83h11.67v11.66h-11.67zM806 394.83h11.67v11.66h-11.67zM852.67 394.83h11.67v11.66h-11.67zM386 406.49h11.67v11.66h-11.67zM817.67 406.49h11.67v11.66h-11.67zM841 406.49h11.67v11.66h-11.67zM911 406.49h11.67v11.66h-11.67zM1086 406.49h11.67v11.66h-11.67zM782.67 418.15h11.67v11.66h-11.67zM817.67 418.15h11.67v11.66h-11.67zM806 429.82h11.67v11.66h-11.67zM852.67 429.82h11.67v11.66h-11.67zM887.67 429.82h11.67v11.66h-11.67zM1086 429.82h11.67v11.66h-11.67zM946 453.14h11.67v11.66h-11.67zM374.33 464.8h11.67v11.66h-11.67zM607.67 464.8h23.33v11.66h-23.33zM712.67 464.8h11.67v11.66h-11.67zM841 464.8h11.67v11.66h-11.67zM374.33 476.46h11.67v11.66h-11.67zM724.33 476.46h11.67v11.66h-11.67zM817.67 476.46h23.33v11.66h-23.33zM1039.33 476.46h11.67v11.66h-11.67zM1097.67 476.46h11.67v11.66h-11.67zM537.67 488.12h11.67v11.66h-11.67zM572.67 488.12h11.67v11.66h-11.67zM712.67 488.12h11.67v11.66h-11.67zM841 488.12h11.67v11.66h-11.67zM981 488.12h11.67v11.66h-11.67zM1109.33 488.12h11.67v11.66h-11.67zM852.67 499.78h11.67v11.66h-11.67zM969.33 499.78h11.67v11.66h-11.67zM514.33 511.45h11.67v11.66h-11.67zM724.33 511.45h11.67v11.66h-11.67zM852.67 511.45h11.67v11.66h-11.67zM397.67 523.11h11.67v11.66h-11.67zM596 523.11h11.67v11.66h-11.67zM701 523.11h11.67v11.66h-11.67zM666 534.77h11.67v11.66h-11.67zM596 546.43h11.67v11.66h-11.67zM852.67 546.43h11.67v11.66h-11.67zM887.67 546.43h11.67v11.66h-11.67zM1109.33 558.09h11.67v11.66h-11.67zM642.67 569.75h11.67v11.66h-11.67zM549.33 581.42h11.67v11.66h-11.67zM747.67 581.42h11.67v11.66h-11.67zM782.67 581.42h11.67v11.66h-11.67zM397.67 593.08h11.67v11.66h-11.67zM759.33 593.08h11.67v11.66h-11.67zM829.33 593.08h23.33v11.66h-23.33zM899.33 593.08h11.67v11.66h-11.67zM432.67 604.74h11.67v11.66h-11.67zM491 604.74h11.67v11.66h-11.67zM514.33 604.74h11.67v11.66h-11.67zM794.33 604.74h11.67v11.66h-11.67zM829.33 604.74h11.67v11.66h-11.67zM456 616.4h11.67v11.66h-11.67zM759.33 616.4h11.67v11.66h-11.67zM876 616.4h11.67v11.66h-11.67zM887.67 628.06h11.67v11.66h-11.67zM397.67 639.72h11.67v11.66h-11.67zM397.67 651.38h11.67v11.66h-11.67zM736 651.38h11.67v11.66h-11.67zM759.33 651.38h11.67v11.66h-11.67zM537.67 663.05h11.67v11.66h-11.67zM736 663.05h11.67v11.66h-11.67zM817.67 663.05h11.67v11.66h-11.67zM631 674.71h23.33v11.66h-23.33z"/>
<path fill="#02020c" d="M957.67 44.98h11.67v11.66h-11.67zM852.67 56.65h11.67v11.66h-11.67zM911 56.65h11.67v11.66h-11.67zM852.67 68.31h23.33v11.66h-23.33zM806 79.97h11.67v11.66h-11.67zM619.33 91.63h11.67v11.66h-11.67zM806 91.63h11.67v11.66h-11.67zM1004.33 91.63h11.67v11.66h-11.67zM619.33 103.29h11.67v11.66h-11.67zM724.33 114.95h11.67v11.66h-11.67zM747.67 114.95h23.33v11.66h-23.33zM1027.67 114.95h11.67v11.66h-11.67zM899.33 126.62h11.67v11.66h-11.67zM957.67 126.62h11.67v11.66h-11.67zM526 138.28h11.67v11.66h-11.67zM736 138.28h11.67v11.66h-11.67zM421 149.94h11.67v11.66h-11.67zM467.67 149.94h11.67v11.66h-11.67zM759.33 149.94h11.67v11.66h-11.67zM817.67 149.94h11.67v11.66h-11.67zM806 161.6h11.67v11.66h-11.67zM922.67 161.6h23.33v11.66h-23.33zM1027.67 161.6h11.67v11.66h-11.67zM572.67 173.26h11.67v11.66h-11.67zM864.33 173.26h11.67v11.66h-11.67zM677.67 184.92h11.67v11.66h-11.67zM747.67 184.92h23.33v11.66h-23.33zM829.33 184.92h11.67v11.66h-11.67zM386 196.58h11.67v11.66h-11.67zM432.67 196.58h11.67v11.66h-11.67zM467.67 196.58h11.67v11.66h-11.67zM712.67 196.58h11.67v11.66h-11.67zM771 196.58h11.67v11.66h-11.67zM689.33 208.25h11.67v11.66h-11.67zM502.67 219.91h11.67v11.66h-11.67zM794.33 231.57h11.67v11.66h-11.67zM1039.33 231.57h11.67v11.66h-11.67zM467.67 243.23h11.67v11.66h-11.67zM374.33 254.89h11.67v11.66h-11.67zM561 254.89h11.67v11.66h-11.67zM701 254.89h11.67v11.66h-11.67zM759.33 254.89h11.67v11.66h-11.67zM491 266.55h11.67v11.66h-11.67zM526 266.55h11.67v11.66h-11.67zM561 266.55h11.67v11.66h-11.67zM712.67 266.55h11.67v11.66h-11.67zM1039.33 266.55h11.67v11.66h-11.67zM724.33 278.22h11.67v11.66h-11.67zM852.67 278.22h11.67v11.66h-11.67zM479.33 289.88h11.67v11.66h-11.67zM537.67 289.88h23.33v11.66h-23.33zM572.67 289.88h11.67v11.66h-11.67zM596 289.88h11.67v11.66h-11.67zM724.33 289.88h35v11.66h-35zM712.67 301.54h23.33v11.66h-23.33zM747.67 301.54h11.67v11.66h-11.67zM537.67 313.2h11.67v11.66h-11.67zM561 313.2h11.67v11.66h-11.67zM584.33 313.2h11.67v11.66h-11.67zM969.33 313.2h11.67v11.66h-11.67zM771 336.52h11.67v11.66h-11.67zM596 348.18h11.67v11.66h-11.67zM736 348.18h11.67v11.66h-11.67zM386 359.85h11.67v11.66h-11.67zM631 359.85h11.67v11.66h-11.67zM817.67 359.85h46.67v11.66h-46.67zM946 359.85h11.67v11.66h-11.67zM806 371.51h11.67v11.66h-11.67zM852.67 371.51h11.67v11.66h-11.67zM899.33 371.51h11.67v11.66h-11.67zM934.33 371.51h11.67v11.66h-11.67zM642.67 394.83h11.67v11.66h-11.67zM841 394.83h11.67v11.66h-11.67zM864.33 394.83h11.67v11.66h-11.67zM911 394.83h11.67v11.66h-11.67zM1039.33 394.83h11.67v11.66h-11.67zM806 406.49h11.67v11.66h-11.67zM981 406.49h11.67v11.66h-11.67zM829.33 418.15h11.67v11.66h-11.67zM852.67 418.15h11.67v11.66h-11.67zM514.33 429.82h11.67v11.66h-11.67zM677.67 429.82h11.67v11.66h-11.67zM817.67 429.82h11.67v11.66h-11.67zM841 429.82h11.67v11.66h-11.67zM817.67 441.48h11.67v11.66h-11.67zM864.33 441.48h11.67v11.66h-11.67zM351 453.14h11.67v11.66h-11.67zM677.67 453.14h23.33v11.66h-23.33zM841 453.14h11.67v11.66h-11.67zM1016 453.14h11.67v11.66h-11.67zM666 464.8h11.67v11.66h-11.67zM864.33 464.8h11.67v11.66h-11.67zM852.67 476.46h11.67v11.66h-11.67zM911 476.46h11.67v11.66h-11.67zM526 488.12h11.67v11.66h-11.67zM677.67 488.12h11.67v11.66h-11.67zM794.33 488.12h11.67v11.66h-11.67zM852.67 488.12h23.33v11.66h-23.33zM561 499.78h11.67v11.66h-11.67zM829.33 499.78h11.67v11.66h-11.67zM526 511.45h11.67v11.66h-11.67zM841 511.45h11.67v11.66h-11.67zM712.67 523.11h23.33v11.66h-23.33zM864.33 523.11h11.67v11.66h-11.67zM1004.33 523.11h11.67v11.66h-11.67zM1086 523.11h11.67v11.66h-11.67zM736 534.77h11.67v11.66h-11.67zM852.67 534.77h11.67v11.66h-11.67zM666 546.43h11.67v11.66h-11.67zM736 546.43h11.67v11.66h-11.67zM829.33 546.43h11.67v11.66h-11.67zM876 546.43h11.67v11.66h-11.67zM1004.33 546.43h11.67v11.66h-11.67zM852.67 558.09h11.67v11.66h-11.67zM957.67 558.09h11.67v11.66h-11.67zM736 569.75h11.67v11.66h-11.67zM537.67 593.08h11.67v11.66h-11.67zM654.33 593.08h11.67v11.66h-11.67zM864.33 593.08h11.67v11.66h-11.67zM631 604.74h23.33v11.66h-23.33zM712.67 604.74h23.33v11.66h-23.33zM759.33 604.74h23.33v11.66h-23.33zM817.67 604.74h11.67v11.66h-11.67zM876 604.74h11.67v11.66h-11.67zM771 628.06h11.67v11.66h-11.67zM514.33 639.72h11.67v11.66h-11.67zM736 639.72h11.67v11.66h-11.67zM771 639.72h11.67v11.66h-11.67zM864.33 639.72h23.33v11.66h-23.33zM572.67 651.38h11.67v11.66h-11.67zM596 651.38h11.67v11.66h-11.67zM782.67 663.05h23.33v11.66h-23.33zM537.67 674.71h11.67v11.66h-11.67zM619.33 674.71h11.67v11.66h-11.67zM409.33 686.37h11.67v11.66h-11.67zM421 698.03h11.67v11.66h-11.67zM479.33 698.03h11.67v11.66h-11.67zM491 721.35h11.67v11.66h-11.67z"/>
<path fill="#02020e" d="M922.67 44.98h11.67v11.66h-11.67zM922.67 56.65h11.67v11.66h-11.67zM992.67 68.31h11.67v11.66h-11.67zM981 103.29h11.67v11.66h-11.67zM922.67 126.62h11.67v11.66h-11.67zM969.33 126.62h11.67v11.66h-11.67zM899.33 173.26h11.67v11.66h-11.67zM432.67 184.92h11.67v11.66h-11.67zM806 184.92h11.67v11.66h-11.67zM911 184.92h11.67v11.66h-11.67zM1039.33 208.25h23.33v11.66h-23.33zM852.67 219.91h11.67v11.66h-11.67zM864.33 231.57h11.67v11.66h-11.67zM1027.67 243.23h11.67v11.66h-11.67zM864.33 254.89h11.67v11.66h-11.67zM911 254.89h11.67v11.66h-11.67zM1027.67 254.89h11.67v11.66h-11.67zM339.33 289.88h11.67v11.66h-11.67zM899.33 301.54h11.67v11.66h-11.67zM782.67 324.86h11.67v11.66h-11.67zM351 336.52h11.67v11.66h-11.67zM829.33 336.52h11.67v11.66h-11.67zM1062.67 336.52h11.67v11.66h-11.67zM806 348.18h11.67v11.66h-11.67zM1062.67 371.51h11.67v11.66h-11.67zM654.33 383.17h11.67v11.66h-11.67zM351 394.83h11.67v11.66h-11.67zM934.33 394.83h11.67v11.66h-11.67zM992.67 394.83h11.67v11.66h-11.67zM1004.33 406.49h11.67v11.66h-11.67zM1016 418.15h11.67v11.66h-11.67zM467.67 429.82h11.67v11.66h-11.67zM607.67 441.48h11.67v11.66h-11.67zM1027.67 441.48h11.67v11.66h-11.67zM666 453.14h11.67v11.66h-11.67zM479.33 464.8h11.67v11.66h-11.67zM666 476.46h11.67v11.66h-11.67zM1039.33 488.12h11.67v11.66h-11.67zM467.67 499.78h11.67v11.66h-11.67zM596 511.45h11.67v11.66h-11.67zM946 523.11h11.67v11.66h-11.67zM374.33 534.77h23.33v11.66h-23.33zM1051 534.77h11.67v11.66h-11.67zM549.33 546.43h11.67v11.66h-11.67zM491 558.09h11.67v11.66h-11.67zM537.67 558.09h11.67v11.66h-11.67zM887.67 558.09h11.67v11.66h-11.67zM456 569.75h11.67v11.66h-11.67zM514.33 569.75h11.67v11.66h-11.67zM654.33 569.75h11.67v11.66h-11.67zM1039.33 569.75h11.67v11.66h-11.67zM397.67 581.42h11.67v11.66h-11.67zM934.33 593.08h23.33v11.66h-23.33zM677.67 604.74h11.67v11.66h-11.67zM631 616.4h11.67v11.66h-11.67zM537.67 628.06h11.67v11.66h-11.67zM432.67 651.38h11.67v11.66h-11.67zM467.67 651.38h11.67v11.66h-11.67zM526 663.05h11.67v11.66h-11.67zM444.33 674.71h11.67v11.66h-11.67zM479.33 709.69h11.67v11.66h-11.67z"/>
<path fill="#030210" d="M607.67 103.29h11.67v11.66h-11.67zM444.33 196.58h11.67v11.66h-11.67zM304.33 219.91h11.67v11.66h-11.67zM1016 219.91h11.67v11.66h-11.67zM981 231.57h11.67v11.66h-11.67zM829.33 266.55h11.67v11.66h-11.67zM864.33 278.22h11.67v11.66h-11.67zM969.33 289.88h11.67v11.66h-11.67zM409.33 301.54h11.67v11.66h-11.67zM852.67 301.54h11.67v11.66h-11.67zM409.33 336.52h11.67v11.66h-11.67zM584.33 336.52h11.67v11.66h-11.67zM351 371.51h11.67v11.66h-11.67zM549.33 371.51h11.67v11.66h-11.67zM957.67 371.51h11.67v11.66h-11.67zM631 394.83h11.67v11.66h-11.67zM922.67 406.49h11.67v11.66h-11.67zM1016 406.49h11.67v11.66h-11.67zM397.67 418.15h11.67v11.66h-11.67zM362.67 429.82h11.67v11.66h-11.67zM876 429.82h11.67v11.66h-11.67zM911 441.48h11.67v11.66h-11.67zM421 453.14h23.33v11.66h-23.33zM549.33 453.14h11.67v11.66h-11.67zM444.33 476.46h11.67v11.66h-11.67zM479.33 476.46h11.67v11.66h-11.67zM596 488.12h11.67v11.66h-11.67zM677.67 499.78h11.67v11.66h-11.67zM1086 499.78h11.67v11.66h-11.67zM934.33 511.45h11.67v11.66h-11.67zM922.67 523.11h11.67v11.66h-11.67zM619.33 546.43h11.67v11.66h-11.67zM1051 546.43h11.67v11.66h-11.67zM1074.33 546.43h11.67v11.66h-11.67zM1027.67 558.09h11.67v11.66h-11.67zM596 581.42h11.67v11.66h-11.67zM957.67 581.42h11.67v11.66h-11.67zM992.67 581.42h11.67v11.66h-11.67zM386 593.08h11.67v11.66h-11.67zM514.33 593.08h23.33v11.66h-23.33zM922.67 593.08h11.67v11.66h-11.67zM969.33 593.08h11.67v11.66h-11.67zM1027.67 604.74h11.67v11.66h-11.67zM701 616.4h11.67v11.66h-11.67zM502.67 628.06h11.67v11.66h-11.67zM561 628.06h11.67v11.66h-11.67zM491 639.72h11.67v11.66h-11.67zM514.33 651.38h11.67v11.66h-11.67zM712.67 651.38h11.67v11.66h-11.67zM491 663.05h23.33v11.66h-23.33zM631 686.37h11.67v11.66h-11.67zM491 698.03h11.67v11.66h-11.67zM491 709.69h11.67v11.66h-11.67z"/>
<path fill="#040312" d="M922.67 103.29h11.67v11.66h-11.67zM397.67 149.94h11.67v11.66h-11.67zM374.33 161.6h11.67v11.66h-11.67zM806 173.26h11.67v11.66h-11.67zM1051 196.58h11.67v11.66h-11.67zM327.67 208.25h11.67v11.66h-11.67zM386 231.57h11.67v11.66h-11.67zM992.67 254.89h11.67v11.66h-11.67zM316 266.55h11.67v11.66h-11.67zM444.33 266.55h11.67v11.66h-11.67zM806 278.22h11.67v11.66h-11.67zM887.67 278.22h11.67v11.66h-11.67zM911 278.22h11.67v11.66h-11.67zM1016 289.88h11.67v11.66h-11.67zM351 301.54h11.67v11.66h-11.67zM876 313.2h11.67v11.66h-11.67zM432.67 324.86h11.67v11.66h-11.67zM467.67 324.86h11.67v11.66h-11.67zM876 336.52h11.67v11.66h-11.67zM456 348.18h11.67v11.66h-11.67zM537.67 348.18h11.67v11.66h-11.67zM922.67 371.51h11.67v11.66h-11.67zM374.33 383.17h11.67v11.66h-11.67zM421 383.17h11.67v11.66h-11.67zM491 383.17h11.67v11.66h-11.67zM397.67 394.83h11.67v11.66h-11.67zM362.67 406.49h11.67v11.66h-11.67zM666 406.49h23.33v11.66h-23.33zM572.67 418.15h11.67v11.66h-11.67zM397.67 429.82h11.67v11.66h-11.67zM561 429.82h11.67v11.66h-11.67zM374.33 453.14h11.67v11.66h-11.67zM479.33 453.14h11.67v11.66h-11.67zM911 453.14h11.67v11.66h-11.67zM876 464.8h11.67v11.66h-11.67zM432.67 476.46h11.67v11.66h-11.67zM549.33 476.46h11.67v11.66h-11.67zM1004.33 476.46h11.67v11.66h-11.67zM1051 476.46h11.67v11.66h-11.67zM1109.33 476.46h11.67v11.66h-11.67zM887.67 488.12h23.33v11.66h-23.33zM1097.67 488.12h11.67v11.66h-11.67zM374.33 499.78h11.67v11.66h-11.67zM491 499.78h11.67v11.66h-11.67zM514.33 499.78h11.67v11.66h-11.67zM421 511.45h11.67v11.66h-11.67zM642.67 511.45h11.67v11.66h-11.67zM1039.33 511.45h11.67v11.66h-11.67zM467.67 534.77h23.33v11.66h-23.33zM887.67 534.77h11.67v11.66h-11.67zM397.67 546.43h11.67v11.66h-11.67zM677.67 546.43h11.67v11.66h-11.67zM584.33 558.09h11.67v11.66h-11.67zM1004.33 558.09h11.67v11.66h-11.67zM502.67 581.42h11.67v11.66h-11.67zM1004.33 616.4h11.67v11.66h-11.67zM946 628.06h11.67v11.66h-11.67zM432.67 639.72h11.67v11.66h-11.67zM397.67 663.05h11.67v11.66h-11.67zM584.33 674.71h11.67v11.66h-11.67zM526 698.03h11.67v11.66h-11.67z"/>
<path fill="#050417" d="M911 44.98h11.67v11.66h-11.67zM934.33 103.29h11.67v11.66h-11.67zM456 126.62h11.67v11.66h-11.67zM911 126.62h11.67v11.66h-11.67zM946 126.62h11.67v11.66h-11.67zM397.67 161.6h11.67v11.66h-11.67zM444.33 161.6h11.67v11.66h-11.67zM899.33 161.6h11.67v11.66h-11.67zM467.67 173.26h11.67v11.66h-11.67zM1016 196.58h11.67v11.66h-11.67zM1016 208.25h11.67v11.66h-11.67zM946 231.57h11.67v11.66h-11.67zM841 243.23h11.67v11.66h-11.67zM864.33 243.23h11.67v11.66h-11.67zM467.67 254.89h11.67v11.66h-11.67zM934.33 266.55h11.67v11.66h-11.67zM981 266.55h11.67v11.66h-11.67zM1016 266.55h11.67v11.66h-11.67zM351 289.88h11.67v11.66h-11.67zM1039.33 301.54h11.67v11.66h-11.67zM397.67 336.52h11.67v11.66h-11.67zM479.33 336.52h11.67v11.66h-11.67zM537.67 336.52h11.67v11.66h-11.67zM351 348.18h11.67v11.66h-11.67zM782.67 348.18h23.33v11.66h-23.33zM456 371.51h11.67v11.66h-11.67zM502.67 383.17h11.67v11.66h-11.67zM922.67 383.17h11.67v11.66h-11.67zM1027.67 394.83h11.67v11.66h-11.67zM957.67 406.49h11.67v11.66h-11.67zM887.67 418.15h11.67v11.66h-11.67zM1027.67 418.15h11.67v11.66h-11.67zM1074.33 418.15h11.67v11.66h-11.67zM584.33 429.82h11.67v11.66h-11.67zM1027.67 429.82h11.67v11.66h-11.67zM526 441.48h11.67v11.66h-11.67zM654.33 441.48h11.67v11.66h-11.67zM1097.67 453.14h11.67v11.66h-11.67zM491 464.8h11.67v11.66h-11.67zM549.33 464.8h11.67v11.66h-11.67zM992.67 464.8h23.33v11.66h-23.33zM876 476.46h11.67v11.66h-11.67zM351 488.12h11.67v11.66h-11.67zM1004.33 499.78h11.67v11.66h-11.67zM666 511.45h11.67v11.66h-11.67zM911 523.11h11.67v11.66h-11.67zM969.33 523.11h11.67v11.66h-11.67zM654.33 534.77h11.67v11.66h-11.67zM876 534.77h11.67v11.66h-11.67zM421 546.43h11.67v11.66h-11.67zM876 558.09h11.67v11.66h-11.67zM934.33 558.09h11.67v11.66h-11.67zM1039.33 558.09h23.33v11.66h-23.33zM456 581.42h11.67v11.66h-11.67zM491 581.42h11.67v11.66h-11.67zM514.33 581.42h11.67v11.66h-11.67zM1004.33 581.42h11.67v11.66h-11.67zM712.67 593.08h11.67v11.66h-11.67zM526 604.74h11.67v11.66h-11.67zM701 604.74h11.67v11.66h-11.67zM969.33 604.74h23.33v11.66h-23.33zM724.33 616.4h11.67v11.66h-11.67zM1039.33 616.4h11.67v11.66h-11.67zM1062.67 616.4h11.67v11.66h-11.67zM584.33 628.06h11.67v11.66h-11.67zM689.33 628.06h11.67v11.66h-11.67zM957.67 628.06h11.67v11.66h-11.67zM992.67 628.06h11.67v11.66h-11.67zM946 639.72h11.67v11.66h-11.67zM724.33 663.05h11.67v11.66h-11.67z"/>
<path fill="#060419" d="M922.67 91.63h11.67v11.66h-11.67zM456 149.94h11.67v11.66h-11.67zM1027.67 149.94h11.67v11.66h-11.67zM351 173.26h11.67v11.66h-11.67zM397.67 173.26h11.67v11.66h-11.67zM794.33 173.26h11.67v11.66h-11.67zM817.67 184.92h11.67v11.66h-11.67zM981 219.91h11.67v11.66h-11.67zM421 243.23h11.67v11.66h-11.67zM981 243.23h11.67v11.66h-11.67zM421 254.89h11.67v11.66h-11.67zM362.67 278.22h11.67v11.66h-11.67zM1016 278.22h11.67v11.66h-11.67zM467.67 289.88h11.67v11.66h-11.67zM887.67 289.88h11.67v11.66h-11.67zM946 289.88h11.67v11.66h-11.67zM339.33 301.54h11.67v11.66h-11.67zM339.33 313.2h11.67v11.66h-11.67zM479.33 348.18h11.67v11.66h-11.67zM491 371.51h11.67v11.66h-11.67zM386 383.17h11.67v11.66h-11.67zM981 383.17h11.67v11.66h-11.67zM362.67 394.83h11.67v11.66h-11.67zM666 418.15h11.67v11.66h-11.67zM386 441.48h11.67v11.66h-11.67zM386 453.14h11.67v11.66h-11.67zM362.67 464.8h11.67v11.66h-11.67zM386 464.8h11.67v11.66h-11.67zM677.67 464.8h11.67v11.66h-11.67zM572.67 476.46h11.67v11.66h-11.67zM596 476.46h11.67v11.66h-11.67zM677.67 476.46h11.67v11.66h-11.67zM1027.67 476.46h11.67v11.66h-11.67zM432.67 488.12h11.67v11.66h-11.67zM1051 488.12h11.67v11.66h-11.67zM572.67 499.78h11.67v11.66h-11.67zM607.67 499.78h11.67v11.66h-11.67zM1051 499.78h11.67v11.66h-11.67zM502.67 523.11h11.67v11.66h-11.67zM584.33 523.11h11.67v11.66h-11.67zM1016 523.11h11.67v11.66h-11.67zM922.67 534.77h11.67v11.66h-11.67zM642.67 546.43h11.67v11.66h-11.67zM374.33 558.09h35v11.66h-35zM677.67 569.75h11.67v11.66h-11.67zM631 581.42h11.67v11.66h-11.67zM992.67 593.08h11.67v11.66h-11.67zM946 616.4h11.67v11.66h-11.67zM537.67 639.72h11.67v11.66h-11.67zM712.67 639.72h11.67v11.66h-11.67zM549.33 651.38h11.67v11.66h-11.67zM631 651.38h11.67v11.66h-11.67zM456 663.05h11.67v11.66h-11.67zM444.33 686.37h11.67v11.66h-11.67zM421 709.69h11.67v11.66h-11.67z"/>
<path fill="#07051b" d="M829.33 68.31h11.67v11.66h-11.67zM747.67 79.97h11.67v11.66h-11.67zM771 79.97h11.67v11.66h-11.67zM712.67 91.63h11.67v11.66h-11.67zM747.67 91.63h11.67v11.66h-11.67zM1016 91.63h11.67v11.66h-11.67zM771 103.29h11.67v11.66h-11.67zM829.33 114.95h23.33v11.66h-23.33zM852.67 126.62h11.67v11.66h-11.67zM876 126.62h11.67v11.66h-11.67zM654.33 138.28h11.67v11.66h-11.67zM969.33 138.28h11.67v11.66h-11.67zM654.33 149.94h11.67v11.66h-11.67zM689.33 149.94h11.67v11.66h-11.67zM957.67 149.94h23.33v11.66h-23.33zM677.67 161.6h11.67v11.66h-11.67zM957.67 173.26h11.67v11.66h-11.67zM736 184.92h11.67v11.66h-11.67zM479.33 196.58h11.67v11.66h-11.67zM526 196.58h11.67v11.66h-11.67zM701 196.58h11.67v11.66h-11.67zM491 208.25h11.67v11.66h-11.67zM561 208.25h11.67v11.66h-11.67zM829.33 208.25h11.67v11.66h-11.67zM491 219.91h11.67v11.66h-11.67zM946 219.91h11.67v11.66h-11.67zM351 231.57h11.67v11.66h-11.67zM596 231.57h23.33v11.66h-23.33zM992.67 231.57h11.67v11.66h-11.67zM817.67 243.23h11.67v11.66h-11.67zM362.67 254.89h11.67v11.66h-11.67zM397.67 266.55h11.67v11.66h-11.67zM409.33 278.22h11.67v11.66h-11.67zM584.33 278.22h11.67v11.66h-11.67zM386 289.88h11.67v11.66h-11.67zM864.33 289.88h11.67v11.66h-11.67zM934.33 289.88h11.67v11.66h-11.67zM1027.67 289.88h11.67v11.66h-11.67zM467.67 301.54h11.67v11.66h-11.67zM491 301.54h11.67v11.66h-11.67zM631 301.54h11.67v11.66h-11.67zM351 313.2h11.67v11.66h-11.67zM911 313.2h11.67v11.66h-11.67zM421 324.86h11.67v11.66h-11.67zM642.67 324.86h11.67v11.66h-11.67zM374.33 336.52h11.67v11.66h-11.67zM782.67 336.52h11.67v11.66h-11.67zM806 359.85h11.67v11.66h-11.67zM1004.33 371.51h11.67v11.66h-11.67zM771 383.17h11.67v11.66h-11.67zM969.33 383.17h11.67v11.66h-11.67zM992.67 383.17h11.67v11.66h-11.67zM491 394.83h11.67v11.66h-11.67zM607.67 394.83h11.67v11.66h-11.67zM1086 394.83h11.67v11.66h-11.67zM456 406.49h11.67v11.66h-11.67zM514.33 406.49h11.67v11.66h-11.67zM876 406.49h11.67v11.66h-11.67zM374.33 418.15h11.67v11.66h-11.67zM491 418.15h11.67v11.66h-11.67zM642.67 418.15h11.67v11.66h-11.67zM689.33 429.82h11.67v11.66h-11.67zM689.33 441.48h11.67v11.66h-11.67zM992.67 441.48h11.67v11.66h-11.67zM619.33 453.14h11.67v11.66h-11.67zM712.67 453.14h11.67v11.66h-11.67zM701 464.8h11.67v11.66h-11.67zM794.33 464.8h11.67v11.66h-11.67zM689.33 476.46h11.67v11.66h-11.67zM957.67 476.46h11.67v11.66h-11.67zM374.33 488.12h11.67v11.66h-11.67zM479.33 488.12h11.67v11.66h-11.67zM642.67 488.12h11.67v11.66h-11.67zM689.33 488.12h23.33v11.66h-23.33zM747.67 488.12h11.67v11.66h-11.67zM1062.67 488.12h11.67v11.66h-11.67zM689.33 499.78h11.67v11.66h-11.67zM747.67 499.78h11.67v11.66h-11.67zM537.67 534.77h11.67v11.66h-11.67zM584.33 534.77h11.67v11.66h-11.67zM677.67 534.77h11.67v11.66h-11.67zM689.33 546.43h11.67v11.66h-11.67zM1097.67 546.43h11.67v11.66h-11.67zM479.33 558.09h11.67v11.66h-11.67zM829.33 558.09h11.67v11.66h-11.67zM1121 558.09h11.67v11.66h-11.67zM747.67 569.75h23.33v11.66h-23.33zM887.67 569.75h11.67v11.66h-11.67zM1132.67 569.75h11.67v11.66h-11.67zM479.33 604.74h11.67v11.66h-11.67zM514.33 616.4h11.67v11.66h-11.67zM701 628.06h11.67v11.66h-11.67zM864.33 628.06h11.67v11.66h-11.67zM817.67 639.72h11.67v11.66h-11.67zM724.33 651.38h11.67v11.66h-11.67zM467.67 663.05h11.67v11.66h-11.67zM701 686.37h11.67v11.66h-11.67zM514.33 709.69h11.67v11.66h-11.67z"/>
<path fill="#09061f" d="M712.67 79.97h11.67v11.66h-11.67zM829.33 79.97h11.67v11.66h-11.67zM631 91.63h23.33v11.66h-23.33zM724.33 91.63h11.67v11.66h-11.67zM771 91.63h11.67v11.66h-11.67zM794.33 91.63h11.67v11.66h-11.67zM852.67 91.63h11.67v11.66h-11.67zM642.67 103.29h11.67v11.66h-11.67zM701 103.29h11.67v11.66h-11.67zM502.67 126.62h11.67v11.66h-11.67zM526 126.62h11.67v11.66h-11.67zM841 126.62h11.67v11.66h-11.67zM887.67 126.62h11.67v11.66h-11.67zM502.67 138.28h11.67v11.66h-11.67zM782.67 138.28h11.67v11.66h-11.67zM864.33 138.28h11.67v11.66h-11.67zM666 149.94h11.67v11.66h-11.67zM747.67 149.94h11.67v11.66h-11.67zM782.67 149.94h11.67v11.66h-11.67zM456 161.6h11.67v11.66h-11.67zM666 161.6h11.67v11.66h-11.67zM724.33 161.6h11.67v11.66h-11.67zM782.67 161.6h23.33v11.66h-23.33zM841 161.6h11.67v11.66h-11.67zM981 161.6h11.67v11.66h-11.67zM386 173.26h11.67v11.66h-11.67zM491 173.26h11.67v11.66h-11.67zM596 173.26h11.67v11.66h-11.67zM712.67 173.26h11.67v11.66h-11.67zM887.67 173.26h11.67v11.66h-11.67zM421 196.58h11.67v11.66h-11.67zM666 196.58h11.67v11.66h-11.67zM724.33 196.58h11.67v11.66h-11.67zM747.67 196.58h11.67v11.66h-11.67zM502.67 208.25h23.33v11.66h-23.33zM701 208.25h11.67v11.66h-11.67zM549.33 219.91h11.67v11.66h-11.67zM572.67 219.91h11.67v11.66h-11.67zM689.33 219.91h11.67v11.66h-11.67zM736 219.91h11.67v11.66h-11.67zM479.33 231.57h11.67v11.66h-11.67zM479.33 243.23h11.67v11.66h-11.67zM502.67 243.23h11.67v11.66h-11.67zM689.33 243.23h11.67v11.66h-11.67zM724.33 254.89h11.67v11.66h-11.67zM584.33 266.55h11.67v11.66h-11.67zM899.33 266.55h11.67v11.66h-11.67zM981 278.22h11.67v11.66h-11.67zM502.67 289.88h11.67v11.66h-11.67zM421 301.54h11.67v11.66h-11.67zM479.33 301.54h11.67v11.66h-11.67zM514.33 301.54h11.67v11.66h-11.67zM817.67 301.54h11.67v11.66h-11.67zM619.33 313.2h11.67v11.66h-11.67zM864.33 336.52h11.67v11.66h-11.67zM899.33 336.52h11.67v11.66h-11.67zM666 348.18h11.67v11.66h-11.67zM922.67 348.18h11.67v11.66h-11.67zM887.67 359.85h11.67v11.66h-11.67zM1039.33 359.85h11.67v11.66h-11.67zM619.33 371.51h11.67v11.66h-11.67zM432.67 383.17h11.67v11.66h-11.67zM666 383.17h11.67v11.66h-11.67zM759.33 394.83h11.67v11.66h-11.67zM491 406.49h11.67v11.66h-11.67zM1027.67 406.49h11.67v11.66h-11.67zM631 418.15h11.67v11.66h-11.67zM677.67 418.15h11.67v11.66h-11.67zM432.67 429.82h11.67v11.66h-11.67zM759.33 429.82h23.33v11.66h-23.33zM596 453.14h11.67v11.66h-11.67zM724.33 453.14h11.67v11.66h-11.67zM397.67 464.8h11.67v11.66h-11.67zM456 464.8h11.67v11.66h-11.67zM596 464.8h11.67v11.66h-11.67zM736 464.8h11.67v11.66h-11.67zM736 476.46h11.67v11.66h-11.67zM1062.67 476.46h11.67v11.66h-11.67zM1086 476.46h11.67v11.66h-11.67zM479.33 499.78h11.67v11.66h-11.67zM1039.33 499.78h11.67v11.66h-11.67zM899.33 511.45h11.67v11.66h-11.67zM1109.33 511.45h11.67v11.66h-11.67zM409.33 534.77h11.67v11.66h-11.67zM689.33 534.77h11.67v11.66h-11.67zM747.67 534.77h11.67v11.66h-11.67zM701 546.43h11.67v11.66h-11.67zM899.33 546.43h11.67v11.66h-11.67zM841 558.09h11.67v11.66h-11.67zM619.33 569.75h11.67v11.66h-11.67zM677.67 581.42h11.67v11.66h-11.67zM712.67 581.42h11.67v11.66h-11.67zM1027.67 581.42h11.67v11.66h-11.67zM876 593.08h11.67v11.66h-11.67zM619.33 604.74h11.67v11.66h-11.67zM946 604.74h11.67v11.66h-11.67zM607.67 616.4h11.67v11.66h-11.67zM689.33 616.4h11.67v11.66h-11.67zM467.67 628.06h11.67v11.66h-11.67zM677.67 628.06h11.67v11.66h-11.67zM852.67 628.06h11.67v11.66h-11.67zM421 639.72h11.67v11.66h-11.67zM444.33 651.38h11.67v11.66h-11.67zM537.67 651.38h11.67v11.66h-11.67zM596 674.71h11.67v11.66h-11.67zM689.33 674.71h11.67v11.66h-11.67zM747.67 674.71h11.67v11.66h-11.67zM549.33 698.03h11.67v11.66h-11.67zM607.67 709.69h11.67v11.66h-11.67z"/>
<path fill="#0a0722" d="M782.67 79.97h11.67v11.66h-11.67zM841 79.97h11.67v11.66h-11.67zM911 79.97h11.67v11.66h-11.67zM782.67 91.63h11.67v11.66h-11.67zM712.67 103.29h23.33v11.66h-23.33zM526 114.95h11.67v11.66h-11.67zM642.67 114.95h11.67v11.66h-11.67zM514.33 126.62h11.67v11.66h-11.67zM514.33 138.28h11.67v11.66h-11.67zM689.33 138.28h11.67v11.66h-11.67zM911 138.28h23.33v11.66h-23.33zM981 138.28h11.67v11.66h-11.67zM386 149.94h11.67v11.66h-11.67zM502.67 161.6h11.67v11.66h-11.67zM502.67 173.26h11.67v11.66h-11.67zM724.33 173.26h11.67v11.66h-11.67zM421 184.92h11.67v11.66h-11.67zM479.33 184.92h11.67v11.66h-11.67zM572.67 184.92h11.67v11.66h-11.67zM666 184.92h11.67v11.66h-11.67zM514.33 196.58h11.67v11.66h-11.67zM596 196.58h11.67v11.66h-11.67zM806 196.58h11.67v11.66h-11.67zM362.67 208.25h11.67v11.66h-11.67zM596 208.25h11.67v11.66h-11.67zM677.67 208.25h11.67v11.66h-11.67zM736 208.25h11.67v11.66h-11.67zM794.33 208.25h11.67v11.66h-11.67zM362.67 219.91h11.67v11.66h-11.67zM712.67 219.91h11.67v11.66h-11.67zM992.67 219.91h11.67v11.66h-11.67zM362.67 231.57h23.33v11.66h-23.33zM491 231.57h11.67v11.66h-11.67zM514.33 231.57h11.67v11.66h-11.67zM1051 243.23h11.67v11.66h-11.67zM526 254.89h23.33v11.66h-23.33zM596 254.89h11.67v11.66h-11.67zM712.67 254.89h11.67v11.66h-11.67zM701 266.55h11.67v11.66h-11.67zM701 278.22h11.67v11.66h-11.67zM794.33 278.22h11.67v11.66h-11.67zM456 289.88h11.67v11.66h-11.67zM491 289.88h11.67v11.66h-11.67zM782.67 301.54h23.33v11.66h-23.33zM374.33 313.2h11.67v11.66h-11.67zM631 313.2h11.67v11.66h-11.67zM1004.33 313.2h11.67v11.66h-11.67zM1062.67 313.2h11.67v11.66h-11.67zM899.33 324.86h11.67v11.66h-11.67zM992.67 324.86h11.67v11.66h-11.67zM456 336.52h23.33v11.66h-23.33zM724.33 336.52h11.67v11.66h-11.67zM887.67 336.52h11.67v11.66h-11.67zM922.67 336.52h11.67v11.66h-11.67zM374.33 348.18h11.67v11.66h-11.67zM747.67 359.85h23.33v11.66h-23.33zM339.33 371.51h11.67v11.66h-11.67zM444.33 371.51h11.67v11.66h-11.67zM561 383.17h11.67v11.66h-11.67zM899.33 383.17h11.67v11.66h-11.67zM479.33 406.49h11.67v11.66h-11.67zM561 406.49h11.67v11.66h-11.67zM747.67 406.49h11.67v11.66h-11.67zM794.33 406.49h11.67v11.66h-11.67zM456 418.15h11.67v11.66h-11.67zM747.67 418.15h11.67v11.66h-11.67zM572.67 429.82h11.67v11.66h-11.67zM701 441.48h11.67v11.66h-11.67zM1016 441.48h11.67v11.66h-11.67zM584.33 453.14h11.67v11.66h-11.67zM806 488.12h11.67v11.66h-11.67zM736 499.78h11.67v11.66h-11.67zM957.67 499.78h11.67v11.66h-11.67zM1097.67 511.45h11.67v11.66h-11.67zM572.67 523.11h11.67v11.66h-11.67zM969.33 534.77h11.67v11.66h-11.67zM1016 534.77h11.67v11.66h-11.67zM1039.33 534.77h11.67v11.66h-11.67zM607.67 546.43h11.67v11.66h-11.67zM712.67 558.09h58.33v11.66h-58.33zM712.67 569.75h11.67v11.66h-11.67zM992.67 569.75h11.67v11.66h-11.67zM1086 569.75h11.67v11.66h-11.67zM374.33 581.42h11.67v11.66h-11.67zM1109.33 581.42h23.33v11.66h-23.33zM736 593.08h11.67v11.66h-11.67zM549.33 604.74h11.67v11.66h-11.67zM1062.67 604.74h11.67v11.66h-11.67zM386 616.4h11.67v11.66h-11.67zM421 616.4h11.67v11.66h-11.67zM409.33 639.72h11.67v11.66h-11.67zM876 651.38h11.67v11.66h-11.67zM607.67 674.71h11.67v11.66h-11.67zM584.33 686.37h11.67v11.66h-11.67zM654.33 686.37h11.67v11.66h-11.67zM724.33 686.37h11.67v11.66h-11.67zM502.67 698.03h11.67v11.66h-11.67z"/>
<path fill="#0b0724" d="M759.33 68.31h23.33v11.66h-23.33zM689.33 91.63h11.67v11.66h-11.67zM759.33 91.63h11.67v11.66h-11.67zM841 91.63h11.67v11.66h-11.67zM514.33 114.95h11.67v11.66h-11.67zM689.33 114.95h11.67v11.66h-11.67zM771 114.95h11.67v11.66h-11.67zM782.67 126.62h11.67v11.66h-11.67zM841 138.28h23.33v11.66h-23.33zM502.67 149.94h11.67v11.66h-11.67zM701 149.94h11.67v11.66h-11.67zM887.67 149.94h11.67v11.66h-11.67zM514.33 161.6h11.67v11.66h-11.67zM712.67 161.6h11.67v11.66h-11.67zM479.33 173.26h11.67v11.66h-11.67zM584.33 173.26h11.67v11.66h-11.67zM666 173.26h11.67v11.66h-11.67zM351 184.92h11.67v11.66h-11.67zM526 184.92h23.33v11.66h-23.33zM362.67 196.58h11.67v11.66h-11.67zM572.67 196.58h11.67v11.66h-11.67zM689.33 196.58h11.67v11.66h-11.67zM782.67 196.58h23.33v11.66h-23.33zM747.67 208.25h23.33v11.66h-23.33zM852.67 208.25h11.67v11.66h-11.67zM957.67 208.25h11.67v11.66h-11.67zM981 208.25h11.67v11.66h-11.67zM316 219.91h11.67v11.66h-11.67zM596 219.91h11.67v11.66h-11.67zM724.33 219.91h11.67v11.66h-11.67zM747.67 219.91h11.67v11.66h-11.67zM304.33 231.57h11.67v11.66h-11.67zM502.67 231.57h11.67v11.66h-11.67zM526 231.57h11.67v11.66h-11.67zM934.33 231.57h11.67v11.66h-11.67zM957.67 231.57h11.67v11.66h-11.67zM491 243.23h11.67v11.66h-11.67zM526 243.23h23.33v11.66h-23.33zM957.67 243.23h11.67v11.66h-11.67zM1004.33 243.23h11.67v11.66h-11.67zM514.33 254.89h11.67v11.66h-11.67zM409.33 289.88h11.67v11.66h-11.67zM584.33 289.88h11.67v11.66h-11.67zM607.67 289.88h11.67v11.66h-11.67zM852.67 289.88h11.67v11.66h-11.67zM981 289.88h11.67v11.66h-11.67zM502.67 313.2h11.67v11.66h-11.67zM339.33 324.86h11.67v11.66h-11.67zM619.33 324.86h11.67v11.66h-11.67zM981 324.86h11.67v11.66h-11.67zM351 359.85h11.67v11.66h-11.67zM794.33 359.85h11.67v11.66h-11.67zM911 383.17h11.67v11.66h-11.67zM537.67 394.83h11.67v11.66h-11.67zM747.67 394.83h11.67v11.66h-11.67zM771 394.83h11.67v11.66h-11.67zM537.67 406.49h11.67v11.66h-11.67zM607.67 406.49h11.67v11.66h-11.67zM782.67 406.49h11.67v11.66h-11.67zM351 418.15h11.67v11.66h-11.67zM771 418.15h11.67v11.66h-11.67zM1039.33 418.15h23.33v11.66h-23.33zM537.67 429.82h11.67v11.66h-11.67zM782.67 441.48h11.67v11.66h-11.67zM1097.67 441.48h11.67v11.66h-11.67zM561 453.14h11.67v11.66h-11.67zM701 453.14h11.67v11.66h-11.67zM817.67 453.14h11.67v11.66h-11.67zM1004.33 453.14h11.67v11.66h-11.67zM689.33 464.8h11.67v11.66h-11.67zM806 464.8h11.67v11.66h-11.67zM397.67 476.46h11.67v11.66h-11.67zM922.67 476.46h11.67v11.66h-11.67zM619.33 488.12h11.67v11.66h-11.67zM817.67 488.12h11.67v11.66h-11.67zM934.33 488.12h11.67v11.66h-11.67zM596 499.78h11.67v11.66h-11.67zM946 499.78h11.67v11.66h-11.67zM992.67 499.78h11.67v11.66h-11.67zM1074.33 499.78h11.67v11.66h-11.67zM631 511.45h11.67v11.66h-11.67zM689.33 511.45h11.67v11.66h-11.67zM747.67 523.11h11.67v11.66h-11.67zM992.67 523.11h11.67v11.66h-11.67zM491 534.77h11.67v11.66h-11.67zM537.67 546.43h11.67v11.66h-11.67zM747.67 546.43h11.67v11.66h-11.67zM689.33 558.09h11.67v11.66h-11.67zM1016 558.09h11.67v11.66h-11.67zM1086 558.09h11.67v11.66h-11.67zM584.33 569.75h11.67v11.66h-11.67zM806 581.42h11.67v11.66h-11.67zM666 593.08h11.67v11.66h-11.67zM887.67 593.08h11.67v11.66h-11.67zM386 604.74h11.67v11.66h-11.67zM491 616.4h11.67v11.66h-11.67zM911 616.4h11.67v11.66h-11.67zM1051 616.4h11.67v11.66h-11.67zM514.33 628.06h11.67v11.66h-11.67zM607.67 628.06h11.67v11.66h-11.67zM759.33 628.06h11.67v11.66h-11.67zM491 651.38h11.67v11.66h-11.67zM572.67 674.71h11.67v11.66h-11.67z"/>
<path fill="#0c0826" d="M969.33 44.98h11.67v11.66h-11.67zM829.33 56.65h11.67v11.66h-11.67zM724.33 79.97h11.67v11.66h-11.67zM759.33 79.97h11.67v11.66h-11.67zM677.67 91.63h11.67v11.66h-11.67zM677.67 103.29h11.67v11.66h-11.67zM782.67 103.29h11.67v11.66h-11.67zM829.33 103.29h11.67v11.66h-11.67zM701 114.95h11.67v11.66h-11.67zM782.67 114.95h11.67v11.66h-11.67zM852.67 114.95h11.67v11.66h-11.67zM491 126.62h11.67v11.66h-11.67zM712.67 126.62h11.67v11.66h-11.67zM771 126.62h11.67v11.66h-11.67zM829.33 126.62h11.67v11.66h-11.67zM677.67 138.28h11.67v11.66h-11.67zM957.67 161.6h11.67v11.66h-11.67zM514.33 173.26h35v11.66h-35zM561 184.92h11.67v11.66h-11.67zM561 196.58h11.67v11.66h-11.67zM736 196.58h11.67v11.66h-11.67zM397.67 208.25h11.67v11.66h-11.67zM479.33 208.25h11.67v11.66h-11.67zM526 208.25h11.67v11.66h-11.67zM724.33 208.25h11.67v11.66h-11.67zM1027.67 208.25h11.67v11.66h-11.67zM479.33 219.91h11.67v11.66h-11.67zM701 219.91h11.67v11.66h-11.67zM1027.67 219.91h11.67v11.66h-11.67zM327.67 231.57h11.67v11.66h-11.67zM689.33 231.57h11.67v11.66h-11.67zM712.67 231.57h11.67v11.66h-11.67zM561 243.23h23.33v11.66h-23.33zM596 243.23h11.67v11.66h-11.67zM572.67 254.89h11.67v11.66h-11.67zM596 266.55h11.67v11.66h-11.67zM479.33 278.22h23.33v11.66h-23.33zM922.67 278.22h23.33v11.66h-23.33zM899.33 289.88h11.67v11.66h-11.67zM1004.33 289.88h11.67v11.66h-11.67zM386 313.2h11.67v11.66h-11.67zM514.33 313.2h11.67v11.66h-11.67zM607.67 313.2h11.67v11.66h-11.67zM572.67 336.52h11.67v11.66h-11.67zM957.67 336.52h11.67v11.66h-11.67zM981 336.52h11.67v11.66h-11.67zM864.33 348.18h11.67v11.66h-11.67zM666 359.85h11.67v11.66h-11.67zM736 359.85h11.67v11.66h-11.67zM759.33 383.17h11.67v11.66h-11.67zM386 394.83h11.67v11.66h-11.67zM619.33 406.49h11.67v11.66h-11.67zM759.33 406.49h11.67v11.66h-11.67zM969.33 406.49h11.67v11.66h-11.67zM561 418.15h11.67v11.66h-11.67zM806 418.15h11.67v11.66h-11.67zM782.67 429.82h11.67v11.66h-11.67zM432.67 441.48h11.67v11.66h-11.67zM561 441.48h11.67v11.66h-11.67zM712.67 441.48h11.67v11.66h-11.67zM1074.33 441.48h11.67v11.66h-11.67zM782.67 476.46h11.67v11.66h-11.67zM806 476.46h11.67v11.66h-11.67zM631 488.12h11.67v11.66h-11.67zM876 488.12h11.67v11.66h-11.67zM701 499.78h11.67v11.66h-11.67zM817.67 499.78h11.67v11.66h-11.67zM876 499.78h11.67v11.66h-11.67zM922.67 499.78h11.67v11.66h-11.67zM712.67 511.45h11.67v11.66h-11.67zM946 511.45h11.67v11.66h-11.67zM409.33 523.11h11.67v11.66h-11.67zM397.67 534.77h11.67v11.66h-11.67zM502.67 546.43h11.67v11.66h-11.67zM712.67 546.43h11.67v11.66h-11.67zM701 558.09h11.67v11.66h-11.67zM829.33 569.75h11.67v11.66h-11.67zM1097.67 569.75h11.67v11.66h-11.67zM666 581.42h11.67v11.66h-11.67zM794.33 581.42h11.67v11.66h-11.67zM817.67 581.42h11.67v11.66h-11.67zM421 593.08h11.67v11.66h-11.67zM852.67 593.08h11.67v11.66h-11.67zM957.67 593.08h11.67v11.66h-11.67zM654.33 604.74h11.67v11.66h-11.67zM747.67 604.74h11.67v11.66h-11.67zM806 616.4h11.67v11.66h-11.67zM572.67 628.06h11.67v11.66h-11.67zM782.67 628.06h23.33v11.66h-23.33zM561 639.72h11.67v11.66h-11.67zM677.67 639.72h11.67v11.66h-11.67zM922.67 639.72h11.67v11.66h-11.67zM841 651.38h11.67v11.66h-11.67zM631 663.05h11.67v11.66h-11.67zM852.67 663.05h11.67v11.66h-11.67zM549.33 709.69h11.67v11.66h-11.67z"/>
<path fill="#0e092b" d="M1039.33 149.94h11.67v11.66h-11.67zM409.33 161.6h11.67v11.66h-11.67zM1039.33 161.6h11.67v11.66h-11.67zM829.33 196.58h11.67v11.66h-11.67zM304.33 208.25h11.67v11.66h-11.67zM817.67 208.25h11.67v11.66h-11.67zM911 208.25h11.67v11.66h-11.67zM339.33 243.23h11.67v11.66h-11.67zM444.33 243.23h11.67v11.66h-11.67zM946 266.55h11.67v11.66h-11.67zM992.67 266.55h11.67v11.66h-11.67zM456 301.54h11.67v11.66h-11.67zM934.33 324.86h11.67v11.66h-11.67zM491 336.52h11.67v11.66h-11.67zM841 336.52h11.67v11.66h-11.67zM934.33 336.52h11.67v11.66h-11.67zM1086 336.52h11.67v11.66h-11.67zM654.33 371.51h11.67v11.66h-11.67zM946 371.51h11.67v11.66h-11.67zM1004.33 383.17h11.67v11.66h-11.67zM456 394.83h23.33v11.66h-23.33zM351 406.49h11.67v11.66h-11.67zM654.33 418.15h11.67v11.66h-11.67zM619.33 429.82h11.67v11.66h-11.67zM409.33 441.48h11.67v11.66h-11.67zM444.33 441.48h11.67v11.66h-11.67zM619.33 441.48h11.67v11.66h-11.67zM666 441.48h11.67v11.66h-11.67zM619.33 476.46h11.67v11.66h-11.67zM654.33 488.12h11.67v11.66h-11.67zM946 488.12h11.67v11.66h-11.67zM666 499.78h11.67v11.66h-11.67zM934.33 499.78h11.67v11.66h-11.67zM502.67 511.45h11.67v11.66h-11.67zM607.67 511.45h11.67v11.66h-11.67zM934.33 534.77h11.67v11.66h-11.67zM572.67 569.75h11.67v11.66h-11.67zM444.33 581.42h11.67v11.66h-11.67zM642.67 581.42h11.67v11.66h-11.67zM934.33 581.42h11.67v11.66h-11.67zM432.67 593.08h11.67v11.66h-11.67zM561 593.08h11.67v11.66h-11.67zM911 593.08h11.67v11.66h-11.67zM666 604.74h11.67v11.66h-11.67zM957.67 616.4h11.67v11.66h-11.67zM701 639.72h11.67v11.66h-11.67zM607.67 686.37h11.67v11.66h-11.67zM736 686.37h11.67v11.66h-11.67z"/>
<path fill="#10092d" d="M1004.33 44.98h11.67v11.66h-11.67zM899.33 91.63h11.67v11.66h-11.67zM876 138.28h11.67v11.66h-11.67zM409.33 208.25h11.67v11.66h-11.67zM934.33 208.25h11.67v11.66h-11.67zM817.67 219.91h11.67v11.66h-11.67zM304.33 243.23h11.67v11.66h-11.67zM1039.33 243.23h11.67v11.66h-11.67zM409.33 254.89h11.67v11.66h-11.67zM444.33 254.89h11.67v11.66h-11.67zM1004.33 266.55h11.67v11.66h-11.67zM1027.67 266.55h11.67v11.66h-11.67zM362.67 289.88h11.67v11.66h-11.67zM1062.67 289.88h11.67v11.66h-11.67zM922.67 301.54h11.67v11.66h-11.67zM584.33 324.86h11.67v11.66h-11.67zM421 371.51h11.67v11.66h-11.67zM1004.33 394.83h11.67v11.66h-11.67zM631 406.49h11.67v11.66h-11.67zM502.67 418.15h11.67v11.66h-11.67zM421 429.82h11.67v11.66h-11.67zM456 441.48h11.67v11.66h-11.67zM584.33 441.48h11.67v11.66h-11.67zM421 464.8h11.67v11.66h-11.67zM386 476.46h11.67v11.66h-11.67zM409.33 476.46h11.67v11.66h-11.67zM362.67 488.12h11.67v11.66h-11.67zM1027.67 499.78h11.67v11.66h-11.67zM1086 511.45h11.67v11.66h-11.67zM421 534.77h11.67v11.66h-11.67zM409.33 546.43h11.67v11.66h-11.67zM479.33 546.43h11.67v11.66h-11.67zM1027.67 569.75h11.67v11.66h-11.67zM619.33 581.42h11.67v11.66h-11.67zM619.33 593.08h11.67v11.66h-11.67zM1039.33 593.08h11.67v11.66h-11.67zM689.33 604.74h11.67v11.66h-11.67zM421 628.06h11.67v11.66h-11.67zM572.67 639.72h11.67v11.66h-11.67zM572.67 663.05h11.67v11.66h-11.67zM596 686.37h11.67v11.66h-11.67zM619.33 686.37h11.67v11.66h-11.67z"/>
<path fill="#110a30" d="M1004.33 56.65h11.67v11.66h-11.67zM899.33 79.97h11.67v11.66h-11.67zM946 91.63h11.67v11.66h-11.67zM362.67 149.94h11.67v11.66h-11.67zM409.33 149.94h11.67v11.66h-11.67zM911 149.94h23.33v11.66h-23.33zM386 161.6h11.67v11.66h-11.67zM876 184.92h11.67v11.66h-11.67zM456 196.58h11.67v11.66h-11.67zM817.67 196.58h11.67v11.66h-11.67zM911 196.58h11.67v11.66h-11.67zM969.33 219.91h11.67v11.66h-11.67zM841 231.57h11.67v11.66h-11.67zM362.67 243.23h11.67v11.66h-11.67zM432.67 243.23h11.67v11.66h-11.67zM934.33 243.23h11.67v11.66h-11.67zM1004.33 254.89h11.67v11.66h-11.67zM946 278.22h11.67v11.66h-11.67zM922.67 289.88h11.67v11.66h-11.67zM806 301.54h11.67v11.66h-11.67zM351 324.86h11.67v11.66h-11.67zM864.33 324.86h11.67v11.66h-11.67zM491 348.18h11.67v11.66h-11.67zM852.67 348.18h11.67v11.66h-11.67zM1062.67 348.18h11.67v11.66h-11.67zM432.67 371.51h11.67v11.66h-11.67zM596 394.83h11.67v11.66h-11.67zM467.67 418.15h11.67v11.66h-11.67zM397.67 441.48h11.67v11.66h-11.67zM351 464.8h11.67v11.66h-11.67zM1016 476.46h11.67v11.66h-11.67zM397.67 488.12h11.67v11.66h-11.67zM992.67 488.12h11.67v11.66h-11.67zM1086 488.12h11.67v11.66h-11.67zM981 499.78h11.67v11.66h-11.67zM922.67 511.45h11.67v11.66h-11.67zM899.33 569.75h11.67v11.66h-11.67zM934.33 569.75h11.67v11.66h-11.67zM561 581.42h11.67v11.66h-11.67zM444.33 593.08h11.67v11.66h-11.67zM444.33 604.74h11.67v11.66h-11.67zM467.67 604.74h11.67v11.66h-11.67z"/>
<path fill="#140b34" d="M922.67 33.32h11.67v11.66h-11.67zM934.33 126.62h11.67v11.66h-11.67zM899.33 138.28h11.67v11.66h-11.67zM876 149.94h11.67v11.66h-11.67zM899.33 149.94h11.67v11.66h-11.67zM316 208.25h11.67v11.66h-11.67zM421 208.25h11.67v11.66h-11.67zM1004.33 231.57h11.67v11.66h-11.67zM1027.67 231.57h11.67v11.66h-11.67zM327.67 243.23h11.67v11.66h-11.67zM397.67 243.23h11.67v11.66h-11.67zM911 289.88h11.67v11.66h-11.67zM911 301.54h11.67v11.66h-11.67zM432.67 313.2h11.67v11.66h-11.67zM887.67 324.86h11.67v11.66h-11.67zM911 336.52h11.67v11.66h-11.67zM479.33 359.85h11.67v11.66h-11.67zM386 371.51h11.67v11.66h-11.67zM467.67 383.17h11.67v11.66h-11.67zM677.67 383.17h11.67v11.66h-11.67zM502.67 406.49h11.67v11.66h-11.67zM619.33 418.15h11.67v11.66h-11.67zM1086 441.48h11.67v11.66h-11.67zM421 476.46h11.67v11.66h-11.67zM491 488.12h11.67v11.66h-11.67zM584.33 488.12h11.67v11.66h-11.67zM666 488.12h11.67v11.66h-11.67zM1016 499.78h11.67v11.66h-11.67zM397.67 511.45h11.67v11.66h-11.67zM572.67 511.45h11.67v11.66h-11.67zM981 523.11h11.67v11.66h-11.67zM981 534.77h11.67v11.66h-11.67zM537.67 616.4h23.33v11.66h-23.33zM479.33 686.37h11.67v11.66h-11.67zM689.33 686.37h11.67v11.66h-11.67zM432.67 698.03h11.67v11.66h-11.67z"/>
<path fill="#150b37" d="M386 208.25h11.67v11.66h-11.67zM864.33 208.25h11.67v11.66h-11.67zM794.33 289.88h11.67v11.66h-11.67zM817.67 289.88h11.67v11.66h-11.67zM1051 301.54h11.67v11.66h-11.67zM467.67 359.85h11.67v11.66h-11.67zM444.33 394.83h11.67v11.66h-11.67zM479.33 394.83h11.67v11.66h-11.67zM502.67 394.83h11.67v11.66h-11.67zM642.67 406.49h11.67v11.66h-11.67zM549.33 418.15h11.67v11.66h-11.67zM362.67 453.14h11.67v11.66h-11.67zM631 476.46h11.67v11.66h-11.67zM1074.33 476.46h11.67v11.66h-11.67zM514.33 488.12h11.67v11.66h-11.67zM1074.33 488.12h11.67v11.66h-11.67zM362.67 499.78h11.67v11.66h-11.67zM584.33 511.45h11.67v11.66h-11.67zM1016 511.45h11.67v11.66h-11.67zM911 546.43h11.67v11.66h-11.67z"/>
<path fill="#160b39" d="M992.67 149.94h11.67v11.66h-11.67zM806 208.25h11.67v11.66h-11.67zM397.67 219.91h11.67v11.66h-11.67zM992.67 243.23h11.67v11.66h-11.67zM316 289.88h11.67v11.66h-11.67zM561 324.86h11.67v11.66h-11.67zM946 324.86h11.67v11.66h-11.67zM444.33 359.85h11.67v11.66h-11.67zM479.33 371.51h11.67v11.66h-11.67zM899.33 394.83h11.67v11.66h-11.67zM444.33 418.15h11.67v11.66h-11.67zM537.67 418.15h11.67v11.66h-11.67zM876 418.15h11.67v11.66h-11.67zM607.67 429.82h11.67v11.66h-11.67zM1027.67 511.45h11.67v11.66h-11.67zM421 523.11h11.67v11.66h-11.67zM1004.33 569.75h11.67v11.66h-11.67zM479.33 628.06h23.33v11.66h-23.33zM432.67 709.69h11.67v11.66h-11.67z"/>
<path fill="#180c3c" d="M467.67 184.92h11.67v11.66h-11.67zM782.67 219.91h11.67v11.66h-11.67zM397.67 254.89h11.67v11.66h-11.67zM899.33 254.89h11.67v11.66h-11.67zM876 289.88h11.67v11.66h-11.67zM572.67 324.86h11.67v11.66h-11.67zM829.33 348.18h11.67v11.66h-11.67zM631 371.51h11.67v11.66h-11.67zM946 383.17h11.67v11.66h-11.67zM479.33 418.15h11.67v11.66h-11.67zM409.33 453.14h11.67v11.66h-11.67zM409.33 511.45h11.67v11.66h-11.67zM1097.67 534.77h11.67v11.66h-11.67z"/>
<path fill="#1b0c41" d="M782.67 68.31h11.67v11.66h-11.67zM841 68.31h11.67v11.66h-11.67zM701 91.63h11.67v11.66h-11.67zM934.33 91.63h11.67v11.66h-11.67zM829.33 138.28h11.67v11.66h-11.67zM654.33 161.6h11.67v11.66h-11.67zM969.33 161.6h11.67v11.66h-11.67zM607.67 173.26h11.67v11.66h-11.67zM829.33 173.26h11.67v11.66h-11.67zM537.67 208.25h11.67v11.66h-11.67zM794.33 219.91h11.67v11.66h-11.67zM841 219.91h11.67v11.66h-11.67zM316 243.23h11.67v11.66h-11.67zM806 289.88h11.67v11.66h-11.67zM876 301.54h11.67v11.66h-11.67zM421 313.2h11.67v11.66h-11.67zM1051 313.2h11.67v11.66h-11.67zM456 324.86h11.67v11.66h-11.67zM1051 324.86h11.67v11.66h-11.67zM362.67 348.18h11.67v11.66h-11.67zM677.67 359.85h11.67v11.66h-11.67zM467.67 406.49h11.67v11.66h-11.67zM759.33 418.15h11.67v11.66h-11.67zM572.67 441.48h11.67v11.66h-11.67zM736 453.14h11.67v11.66h-11.67zM806 453.14h11.67v11.66h-11.67zM502.67 499.78h11.67v11.66h-11.67zM1062.67 499.78h11.67v11.66h-11.67zM759.33 511.45h11.67v11.66h-11.67zM876 511.45h11.67v11.66h-11.67zM957.67 569.75h11.67v11.66h-11.67zM724.33 581.42h11.67v11.66h-11.67zM747.67 593.08h11.67v11.66h-11.67zM1027.67 593.08h11.67v11.66h-11.67zM677.67 616.4h11.67v11.66h-11.67zM479.33 639.72h11.67v11.66h-11.67zM444.33 698.03h11.67v11.66h-11.67zM502.67 709.69h11.67v11.66h-11.67z"/>
<path fill="#1c0c43" d="M992.67 21.66h23.33v11.66h-23.33zM1004.33 33.32h11.67v11.66h-11.67zM852.67 79.97h11.67v11.66h-11.67zM631 103.29h11.67v11.66h-11.67zM689.33 103.29h11.67v11.66h-11.67zM841 103.29h11.67v11.66h-11.67zM479.33 126.62h11.67v11.66h-11.67zM701 126.62h11.67v11.66h-11.67zM362.67 161.6h11.67v11.66h-11.67zM561 161.6h11.67v11.66h-11.67zM876 161.6h11.67v11.66h-11.67zM841 173.26h11.67v11.66h-11.67zM654.33 184.92h11.67v11.66h-11.67zM537.67 196.58h11.67v11.66h-11.67zM607.67 196.58h11.67v11.66h-11.67zM946 196.58h11.67v11.66h-11.67zM969.33 196.58h11.67v11.66h-11.67zM327.67 219.91h11.67v11.66h-11.67zM561 219.91h11.67v11.66h-11.67zM607.67 219.91h11.67v11.66h-11.67zM829.33 219.91h11.67v11.66h-11.67zM549.33 231.57h11.67v11.66h-11.67zM701 231.57h11.67v11.66h-11.67zM584.33 243.23h11.67v11.66h-11.67zM969.33 243.23h11.67v11.66h-11.67zM584.33 254.89h11.67v11.66h-11.67zM817.67 254.89h11.67v11.66h-11.67zM817.67 266.55h11.67v11.66h-11.67zM969.33 266.55h11.67v11.66h-11.67zM619.33 289.88h11.67v11.66h-11.67zM701 289.88h11.67v11.66h-11.67zM829.33 313.2h11.67v11.66h-11.67zM654.33 324.86h11.67v11.66h-11.67zM1004.33 324.86h11.67v11.66h-11.67zM712.67 336.52h11.67v11.66h-11.67zM712.67 348.18h11.67v11.66h-11.67zM409.33 394.83h11.67v11.66h-11.67zM654.33 394.83h11.67v11.66h-11.67zM526 406.49h11.67v11.66h-11.67zM607.67 418.15h11.67v11.66h-11.67zM701 429.82h11.67v11.66h-11.67zM1074.33 429.82h11.67v11.66h-11.67zM806 441.48h11.67v11.66h-11.67zM397.67 453.14h11.67v11.66h-11.67zM409.33 464.8h11.67v11.66h-11.67zM409.33 488.12h11.67v11.66h-11.67zM817.67 511.45h11.67v11.66h-11.67zM759.33 523.11h11.67v11.66h-11.67zM724.33 534.77h11.67v11.66h-11.67zM1086 534.77h11.67v11.66h-11.67zM467.67 546.43h11.67v11.66h-11.67zM724.33 546.43h11.67v11.66h-11.67zM561 569.75h11.67v11.66h-11.67zM654.33 581.42h11.67v11.66h-11.67zM876 581.42h11.67v11.66h-11.67zM911 604.74h11.67v11.66h-11.67zM584.33 698.03h11.67v11.66h-11.67zM456 721.35h11.67v11.66h-11.67z"/>
<path fill="#1e0c45" d="M981 21.66h11.67v11.66h-11.67zM992.67 33.32h11.67v11.66h-11.67zM992.67 44.98h11.67v11.66h-11.67zM689.33 79.97h11.67v11.66h-11.67zM876 114.95h11.67v11.66h-11.67zM479.33 138.28h11.67v11.66h-11.67zM771 138.28h11.67v11.66h-11.67zM526 149.94h11.67v11.66h-11.67zM491 161.6h11.67v11.66h-11.67zM537.67 161.6h11.67v11.66h-11.67zM572.67 161.6h11.67v11.66h-11.67zM596 161.6h11.67v11.66h-11.67zM584.33 184.92h11.67v11.66h-11.67zM607.67 184.92h11.67v11.66h-11.67zM794.33 184.92h11.67v11.66h-11.67zM549.33 196.58h11.67v11.66h-11.67zM876 196.58h11.67v11.66h-11.67zM992.67 196.58h11.67v11.66h-11.67zM607.67 208.25h11.67v11.66h-11.67zM946 208.25h11.67v11.66h-11.67zM922.67 219.91h11.67v11.66h-11.67zM409.33 243.23h11.67v11.66h-11.67zM607.67 243.23h11.67v11.66h-11.67zM607.67 266.55h11.67v11.66h-11.67zM619.33 278.22h11.67v11.66h-11.67zM876 278.22h11.67v11.66h-11.67zM444.33 289.88h11.67v11.66h-11.67zM526 313.2h11.67v11.66h-11.67zM946 336.52h11.67v11.66h-11.67zM946 348.18h11.67v11.66h-11.67zM724.33 359.85h11.67v11.66h-11.67zM759.33 371.51h11.67v11.66h-11.67zM747.67 383.17h11.67v11.66h-11.67zM934.33 383.17h11.67v11.66h-11.67zM432.67 394.83h11.67v11.66h-11.67zM689.33 418.15h11.67v11.66h-11.67zM444.33 429.82h11.67v11.66h-11.67zM1004.33 429.82h11.67v11.66h-11.67zM724.33 441.48h11.67v11.66h-11.67zM794.33 441.48h11.67v11.66h-11.67zM572.67 453.14h11.67v11.66h-11.67zM782.67 464.8h11.67v11.66h-11.67zM992.67 476.46h11.67v11.66h-11.67zM782.67 488.12h11.67v11.66h-11.67zM397.67 499.78h23.33v11.66h-23.33zM712.67 499.78h11.67v11.66h-11.67zM1109.33 523.11h11.67v11.66h-11.67zM1086 581.42h11.67v11.66h-11.67zM864.33 616.4h11.67v11.66h-11.67zM817.67 628.06h23.33v11.66h-23.33zM829.33 639.72h11.67v11.66h-11.67zM911 639.72h11.67v11.66h-11.67zM607.67 651.38h11.67v11.66h-11.67z"/>
<path fill="#210c4a" d="M841 56.65h11.67v11.66h-11.67zM992.67 56.65h11.67v11.66h-11.67zM642.67 138.28h11.67v11.66h-11.67zM491 149.94h11.67v11.66h-11.67zM642.67 149.94h11.67v11.66h-11.67zM771 149.94h11.67v11.66h-11.67zM607.67 161.6h11.67v11.66h-11.67zM491 196.58h11.67v11.66h-11.67zM584.33 196.58h11.67v11.66h-11.67zM981 196.58h11.67v11.66h-11.67zM584.33 208.25h11.67v11.66h-11.67zM666 208.25h11.67v11.66h-11.67zM584.33 219.91h11.67v11.66h-11.67zM934.33 219.91h11.67v11.66h-11.67zM957.67 219.91h11.67v11.66h-11.67zM957.67 254.89h11.67v11.66h-11.67zM957.67 266.55h11.67v11.66h-11.67zM957.67 278.22h11.67v11.66h-11.67zM514.33 289.88h11.67v11.66h-11.67zM829.33 301.54h11.67v11.66h-11.67zM654.33 336.52h11.67v11.66h-11.67zM1074.33 348.18h11.67v11.66h-11.67zM421 394.83h11.67v11.66h-11.67zM794.33 418.15h11.67v11.66h-11.67zM747.67 429.82h11.67v11.66h-11.67zM339.33 441.48h11.67v11.66h-11.67zM584.33 499.78h11.67v11.66h-11.67zM794.33 499.78h11.67v11.66h-11.67zM887.67 499.78h11.67v11.66h-11.67zM747.67 511.45h11.67v11.66h-11.67zM771 523.11h11.67v11.66h-11.67zM1097.67 523.11h11.67v11.66h-11.67zM456 546.43h11.67v11.66h-11.67zM887.67 581.42h11.67v11.66h-11.67zM561 663.05h11.67v11.66h-11.67zM409.33 698.03h11.67v11.66h-11.67zM514.33 698.03h11.67v11.66h-11.67z"/>
<path fill="#230c4c" d="M701 79.97h11.67v11.66h-11.67zM642.67 126.62h11.67v11.66h-11.67zM829.33 149.94h11.67v11.66h-11.67zM584.33 161.6h11.67v11.66h-11.67zM829.33 161.6h11.67v11.66h-11.67zM561 173.26h11.67v11.66h-11.67zM502.67 196.58h11.67v11.66h-11.67zM677.67 219.91h11.67v11.66h-11.67zM537.67 231.57h11.67v11.66h-11.67zM677.67 231.57h11.67v11.66h-11.67zM607.67 254.89h11.67v11.66h-11.67zM444.33 278.22h11.67v11.66h-11.67zM701 418.15h11.67v11.66h-11.67zM712.67 429.82h11.67v11.66h-11.67zM782.67 453.14h23.33v11.66h-23.33zM806 499.78h11.67v11.66h-11.67zM491 546.43h11.67v11.66h-11.67zM771 569.75h11.67v11.66h-11.67zM957.67 604.74h11.67v11.66h-11.67zM782.67 616.4h11.67v11.66h-11.67zM841 628.06h11.67v11.66h-11.67zM899.33 628.06h11.67v11.66h-11.67z"/>
<path fill="#240c4f" d="M911 33.32h11.67v11.66h-11.67zM934.33 138.28h11.67v11.66h-11.67zM981 149.94h11.67v11.66h-11.67zM456 359.85h11.67v11.66h-11.67zM362.67 418.15h11.67v11.66h-11.67zM1086 546.43h11.67v11.66h-11.67zM456 604.74h11.67v11.66h-11.67zM689.33 639.72h11.67v11.66h-11.67z"/>
<path fill="#260c51" d="M782.67 231.57h11.67v11.66h-11.67zM432.67 254.89h11.67v11.66h-11.67zM654.33 406.49h11.67v11.66h-11.67zM584.33 476.46h11.67v11.66h-11.67zM386 488.12h11.67v11.66h-11.67zM1121 569.75h11.67v11.66h-11.67z"/>
<path fill="#290b55" d="M934.33 149.94h11.67v11.66h-11.67zM957.67 488.12h11.67v11.66h-11.67zM876 523.11h11.67v11.66h-11.67z"/>
<path fill="#2b0b57" d="M887.67 138.28h11.67v11.66h-11.67zM374.33 243.23h11.67v11.66h-11.67zM1109.33 569.75h11.67v11.66h-11.67z"/>
<path fill="#2d0b59" d="M922.67 208.25h11.67v11.66h-11.67zM782.67 313.2h11.67v11.66h-11.67zM467.67 371.51h11.67v11.66h-11.67zM432.67 418.15h11.67v11.66h-11.67zM899.33 499.78h11.67v11.66h-11.67zM1074.33 558.09h11.67v11.66h-11.67z"/>
<path fill="#2f0a5b" d="M619.33 149.94h11.67v11.66h-11.67zM479.33 161.6h11.67v11.66h-11.67zM561 231.57h11.67v11.66h-11.67zM1016 231.57h11.67v11.66h-11.67zM502.67 301.54h11.67v11.66h-11.67zM701 324.86h11.67v11.66h-11.67zM736 383.17h11.67v11.66h-11.67zM794.33 429.82h11.67v11.66h-11.67zM771 441.48h11.67v11.66h-11.67zM747.67 464.8h11.67v11.66h-11.67zM794.33 511.45h11.67v11.66h-11.67zM817.67 523.11h11.67v11.66h-11.67zM817.67 558.09h11.67v11.66h-11.67zM782.67 569.75h11.67v11.66h-11.67zM467.67 639.72h11.67v11.66h-11.67zM829.33 651.38h11.67v11.66h-11.67zM829.33 663.05h11.67v11.66h-11.67zM409.33 709.69h11.67v11.66h-11.67z"/>
<path fill="#320a5e" d="M887.67 44.98h11.67v11.66h-11.67zM1004.33 68.31h23.33v11.66h-23.33zM1027.67 103.29h11.67v11.66h-11.67zM537.67 149.94h11.67v11.66h-11.67zM607.67 149.94h11.67v11.66h-11.67zM1027.67 184.92h11.67v11.66h-11.67zM374.33 196.58h11.67v11.66h-11.67zM374.33 219.91h11.67v11.66h-11.67zM619.33 254.89h11.67v11.66h-11.67zM642.67 371.51h11.67v11.66h-11.67zM479.33 383.17h11.67v11.66h-11.67zM736 394.83h11.67v11.66h-11.67zM992.67 418.15h11.67v11.66h-11.67zM351 441.48h11.67v11.66h-11.67zM747.67 476.46h11.67v11.66h-11.67zM759.33 499.78h11.67v11.66h-11.67zM817.67 534.77h11.67v11.66h-11.67zM817.67 569.75h11.67v11.66h-11.67zM794.33 616.4h11.67v11.66h-11.67zM456 639.72h11.67v11.66h-11.67zM841 639.72h11.67v11.66h-11.67zM911 651.38h11.67v11.66h-11.67zM467.67 674.71h11.67v11.66h-11.67zM677.67 674.71h11.67v11.66h-11.67zM456 744.68h11.67v11.66h-11.67z"/>
<path fill="#340a5f" d="M794.33 68.31h11.67v11.66h-11.67zM467.67 138.28h11.67v11.66h-11.67zM981 173.26h11.67v11.66h-11.67zM642.67 184.92h11.67v11.66h-11.67zM724.33 184.92h11.67v11.66h-11.67zM572.67 231.57h23.33v11.66h-23.33zM666 231.57h11.67v11.66h-11.67zM969.33 231.57h11.67v11.66h-11.67zM969.33 254.89h11.67v11.66h-11.67zM701 301.54h11.67v11.66h-11.67zM1016 348.18h11.67v11.66h-11.67zM724.33 371.51h11.67v11.66h-11.67zM421 406.49h11.67v11.66h-11.67zM444.33 406.49h11.67v11.66h-11.67zM1004.33 418.15h11.67v11.66h-11.67zM747.67 441.48h11.67v11.66h-11.67zM771 453.14h11.67v11.66h-11.67zM421 488.12h11.67v11.66h-11.67zM386 499.78h11.67v11.66h-11.67zM969.33 558.09h11.67v11.66h-11.67zM969.33 581.42h11.67v11.66h-11.67zM969.33 628.06h11.67v11.66h-11.67zM852.67 639.72h11.67v11.66h-11.67zM712.67 663.05h11.67v11.66h-11.67zM596 698.03h11.67v11.66h-11.67zM537.67 709.69h11.67v11.66h-11.67zM467.67 733.02h11.67v11.66h-11.67zM444.33 744.68h11.67v11.66h-11.67z"/>
<path fill="#360961" d="M876 44.98h11.67v11.66h-11.67zM887.67 56.65h11.67v11.66h-11.67zM794.33 79.97h11.67v11.66h-11.67zM467.67 126.62h11.67v11.66h-11.67zM479.33 149.94h11.67v11.66h-11.67zM642.67 161.6h11.67v11.66h-11.67zM642.67 173.26h11.67v11.66h-11.67zM876 173.26h11.67v11.66h-11.67zM1039.33 173.26h11.67v11.66h-11.67zM654.33 196.58h11.67v11.66h-11.67zM374.33 208.25h11.67v11.66h-11.67zM386 219.91h11.67v11.66h-11.67zM666 219.91h11.67v11.66h-11.67zM549.33 243.23h11.67v11.66h-11.67zM677.67 243.23h11.67v11.66h-11.67zM619.33 266.55h11.67v11.66h-11.67zM701 313.2h11.67v11.66h-11.67zM841 348.18h11.67v11.66h-11.67zM747.67 371.51h11.67v11.66h-11.67zM432.67 406.49h11.67v11.66h-11.67zM689.33 406.49h11.67v11.66h-11.67zM736 406.49h11.67v11.66h-11.67zM992.67 429.82h11.67v11.66h-11.67zM782.67 499.78h11.67v11.66h-11.67zM386 511.45h11.67v11.66h-11.67zM771 511.45h11.67v11.66h-11.67zM456 523.11h11.67v11.66h-11.67zM444.33 534.77h11.67v11.66h-11.67zM969.33 569.75h11.67v11.66h-11.67zM561 651.38h11.67v11.66h-11.67zM922.67 651.38h11.67v11.66h-11.67zM444.33 733.02h23.33v11.66h-23.33z"/>
<path fill="#390963" d="M549.33 208.25h11.67v11.66h-11.67zM537.67 219.91h11.67v11.66h-11.67zM689.33 266.55h11.67v11.66h-11.67zM642.67 313.2h11.67v11.66h-11.67zM736 371.51h11.67v11.66h-11.67zM759.33 441.48h11.67v11.66h-11.67zM701 476.46h11.67v11.66h-11.67zM782.67 511.45h11.67v11.66h-11.67zM806 511.45h11.67v11.66h-11.67zM852.67 651.38h11.67v11.66h-11.67zM841 663.05h11.67v11.66h-11.67z"/>
<path fill="#4c0c6b" d="M981 33.32h11.67v11.66h-11.67zM456 534.77h11.67v11.66h-11.67zM444.33 546.43h11.67v11.66h-11.67zM1051 569.75h11.67v11.66h-11.67zM1039.33 604.74h11.67v11.66h-11.67zM899.33 651.38h11.67v11.66h-11.67z"/>
<path fill="#4d0d6c" d="M981 56.65h11.67v11.66h-11.67zM631 114.95h11.67v11.66h-11.67zM631 126.62h11.67v11.66h-11.67zM619.33 138.28h23.33v11.66h-23.33zM584.33 149.94h23.33v11.66h-23.33zM631 149.94h11.67v11.66h-11.67zM549.33 161.6h11.67v11.66h-11.67zM619.33 161.6h23.33v11.66h-23.33zM549.33 173.26h11.67v11.66h-11.67zM619.33 173.26h23.33v11.66h-23.33zM549.33 184.92h11.67v11.66h-11.67zM619.33 184.92h23.33v11.66h-23.33zM1039.33 184.92h11.67v11.66h-11.67zM619.33 196.58h11.67v11.66h-11.67zM619.33 208.25h11.67v11.66h-11.67zM654.33 208.25h11.67v11.66h-11.67zM619.33 219.91h11.67v11.66h-11.67zM619.33 231.57h11.67v11.66h-11.67zM619.33 243.23h11.67v11.66h-11.67zM631 254.89h11.67v11.66h-11.67zM677.67 254.89h11.67v11.66h-11.67zM631 266.55h11.67v11.66h-11.67zM631 278.22h11.67v11.66h-11.67zM689.33 278.22h11.67v11.66h-11.67zM631 289.88h11.67v11.66h-11.67zM689.33 289.88h11.67v11.66h-11.67zM701 336.52h11.67v11.66h-11.67zM712.67 359.85h11.67v11.66h-11.67zM724.33 383.17h11.67v11.66h-11.67zM689.33 394.83h11.67v11.66h-11.67zM724.33 394.83h11.67v11.66h-11.67zM701 406.49h23.33v11.66h-23.33zM712.67 418.15h11.67v11.66h-11.67zM736 418.15h11.67v11.66h-11.67zM724.33 429.82h23.33v11.66h-23.33zM736 441.48h11.67v11.66h-11.67zM747.67 453.14h23.33v11.66h-23.33zM771 464.8h11.67v11.66h-11.67zM759.33 476.46h23.33v11.66h-23.33zM759.33 488.12h23.33v11.66h-23.33zM771 499.78h11.67v11.66h-11.67zM782.67 523.11h35v11.66h-35zM759.33 534.77h58.33v11.66h-58.33zM759.33 546.43h35v11.66h-35zM806 546.43h23.33v11.66h-23.33zM771 558.09h46.67v11.66h-46.67zM794.33 569.75h23.33v11.66h-23.33zM1097.67 593.08h11.67v11.66h-11.67zM479.33 616.4h11.67v11.66h-11.67zM887.67 639.72h23.33v11.66h-23.33zM887.67 651.38h11.67v11.66h-11.67zM561 709.69h11.67v11.66h-11.67zM537.67 721.35h11.67v11.66h-11.67z"/>
<path fill="#510e6c" d="M934.33 33.32h11.67v11.66h-11.67zM934.33 44.98h11.67v11.66h-11.67zM1016 103.29h11.67v11.66h-11.67zM1086 593.08h11.67v11.66h-11.67zM864.33 651.38h11.67v11.66h-11.67zM712.67 674.71h11.67v11.66h-11.67zM584.33 709.69h23.33v11.66h-23.33z"/>
<path fill="#69166e" d="M1097.67 604.74h11.67v11.66h-11.67zM677.67 686.37h11.67v11.66h-11.67z"/>
<path fill="#6a176e" d="M537.67 114.95h11.67v11.66h-11.67zM607.67 114.95h23.33v11.66h-23.33zM537.67 126.62h11.67v11.66h-11.67zM619.33 126.62h11.67v11.66h-11.67zM537.67 138.28h11.67v11.66h-11.67zM607.67 138.28h11.67v11.66h-11.67zM549.33 149.94h35v11.66h-35zM631 196.58h23.33v11.66h-23.33zM631 243.23h11.67v11.66h-11.67zM666 243.23h11.67v11.66h-11.67zM677.67 266.55h11.67v11.66h-11.67zM642.67 301.54h11.67v11.66h-11.67zM712.67 371.51h11.67v11.66h-11.67zM689.33 383.17h11.67v11.66h-11.67zM759.33 464.8h11.67v11.66h-11.67zM794.33 546.43h11.67v11.66h-11.67z"/>
<path fill="#6d186e" d="M981 44.98h11.67v11.66h-11.67zM1086 604.74h11.67v11.66h-11.67z"/>
<path fill="#87216b" d="M607.67 126.62h11.67v11.66h-11.67zM549.33 138.28h11.67v11.66h-11.67zM596 138.28h11.67v11.66h-11.67zM631 208.25h23.33v11.66h-23.33zM654.33 219.91h11.67v11.66h-11.67zM666 254.89h11.67v11.66h-11.67zM654.33 313.2h11.67v11.66h-11.67zM666 336.52h11.67v11.66h-11.67zM677.67 348.18h11.67v11.66h-11.67zM701 348.18h11.67v11.66h-11.67zM689.33 359.85h23.33v11.66h-23.33zM689.33 371.51h11.67v11.66h-11.67zM701 394.83h23.33v11.66h-23.33zM724.33 406.49h11.67v11.66h-11.67zM724.33 418.15h11.67v11.66h-11.67z"/>
<path fill="#8a226a" d="M666 686.37h11.67v11.66h-11.67z"/>
<path fill="#a82e5f" d="M596 126.62h11.67v11.66h-11.67zM561 138.28h11.67v11.66h-11.67zM584.33 138.28h11.67v11.66h-11.67zM631 219.91h11.67v11.66h-11.67zM631 231.57h11.67v11.66h-11.67zM642.67 266.55h11.67v11.66h-11.67zM642.67 278.22h11.67v11.66h-11.67zM642.67 289.88h11.67v11.66h-11.67zM689.33 301.54h11.67v11.66h-11.67zM689.33 313.2h11.67v11.66h-11.67zM701 371.51h11.67v11.66h-11.67zM701 383.17h23.33v11.66h-23.33z"/>
<path fill="#c63d4d" d="M596 114.95h11.67v11.66h-11.67zM549.33 126.62h11.67v11.66h-11.67zM584.33 126.62h11.67v11.66h-11.67zM572.67 138.28h11.67v11.66h-11.67zM654.33 231.57h11.67v11.66h-11.67zM642.67 254.89h11.67v11.66h-11.67zM677.67 278.22h11.67v11.66h-11.67zM677.67 336.52h11.67v11.66h-11.67zM689.33 348.18h11.67v11.66h-11.67z"/>
<path fill="#dd513a" d="M596 103.29h11.67v11.66h-11.67zM642.67 219.91h11.67v11.66h-11.67zM642.67 243.23h23.33v11.66h-23.33zM654.33 254.89h11.67v11.66h-11.67zM666 266.55h11.67v11.66h-11.67zM689.33 336.52h11.67v11.66h-11.67z"/>
<path fill="#f06f20" d="M549.33 103.29h11.67v11.66h-11.67zM572.67 103.29h23.33v11.66h-23.33zM549.33 114.95h11.67v11.66h-11.67zM642.67 231.57h11.67v11.66h-11.67zM677.67 289.88h11.67v11.66h-11.67zM654.33 301.54h11.67v11.66h-11.67zM666 324.86h11.67v11.66h-11.67zM689.33 324.86h11.67v11.66h-11.67z"/>
<path fill="#f2ea69" d="M666 301.54h11.67v11.66h-11.67zM677.67 313.2h11.67v11.66h-11.67z"/>
<path fill="#f8cd37" d="M572.67 114.95h11.67v11.66h-11.67zM654.33 278.22h23.33v11.66h-23.33zM666 313.2h11.67v11.66h-11.67z"/>
<path fill="#f98e09" d="M584.33 114.95h11.67v11.66h-11.67zM561 126.62h11.67v11.66h-11.67zM654.33 266.55h11.67v11.66h-11.67zM677.67 301.54h11.67v11.66h-11.67z"/>
<path fill="#fcaa0f" d="M561 114.95h11.67v11.66h-11.67zM572.67 126.62h11.67v11.66h-11.67zM654.33 289.88h11.67v11.66h-11.67zM677.67 324.86h11.67v11.66h-11.67z"/>
<path fill="#fcffa4" d="M666 289.88h11.67v11.66h-11.67z"/>
</g>
<circle cx="691" cy="348.2" r="8.6" fill="#fff"/>
<g fill="none" stroke="#008000" stroke-width="4.2" stroke-linejoin="round" stroke-linecap="round">
<polyline points="449,166.3 449,178.01 460.71,189.72 460.71,201.43 472.42,213.14 472.42,224.85 484.13,236.56 484.13,248.27 495.84,259.98 495.84,271.69 507.55,283.4 507.55,295.11 519.26,306.82 519.26,318.53 530.97,330.24 530.97,341.95 542.68,353.66 542.68,365.37 554.39,377.08 554.39,388.79 566.1,400.5 566.1,412.21 566.1,423.92 577.81,435.63 577.81,447.34 589.52,459.05 589.52,470.76 601.23,482.47 601.23,494.18 612.94,505.89 612.94,517.6 624.65,529.31 624.65,541.02 636.36,552.73 636.36,564.44 648.07,576.15 648.07,587.86 659.78,599.57 659.78,611.28 671.49,622.99 671.49,634.7 683.2,646.41 683.2,658.12"/>
<polyline points="730.2,25.8 730.2,37.51 741.91,49.22 741.91,60.93 753.62,72.64 753.62,84.35 765.33,96.06 765.33,107.77 777.04,119.48 777.04,131.19 788.75,142.9 788.75,154.61 800.46,166.32 800.46,178.03 812.17,189.74 812.17,201.45 823.88,213.16 823.88,224.87 835.59,236.58 835.59,248.29 847.3,260 847.3,271.71 847.3,283.42 859.01,295.13 859.01,306.84 870.72,318.55 870.72,330.26 882.43,341.97 882.43,353.68 894.14,365.39 894.14,377.1 905.85,388.81 905.85,400.52 917.56,412.23 917.56,423.94 929.27,435.65 929.27,447.36 940.98,459.07 940.98,470.78 952.69,482.49 952.69,494.2 964.4,505.91 964.4,517.62"/>
<line x1="449" y1="166.3" x2="730.2" y2="25.8"/>
<line x1="460.71" y1="201.43" x2="741.91" y2="60.93"/>
<line x1="484.13" y1="236.56" x2="765.33" y2="96.06"/>
<line x1="495.84" y1="271.69" x2="777.04" y2="131.19"/>
<line x1="519.26" y1="306.82" x2="800.46" y2="166.32"/>
<line x1="530.97" y1="341.95" x2="812.17" y2="201.45"/>
<line x1="554.39" y1="377.08" x2="835.59" y2="236.58"/>
<line x1="566.1" y1="412.21" x2="847.3" y2="271.71"/>
<line x1="577.81" y1="447.34" x2="859.01" y2="306.84"/>
<line x1="601.23" y1="482.47" x2="882.43" y2="341.97"/>
<line x1="612.94" y1="517.6" x2="894.14" y2="377.1"/>
<line x1="636.36" y1="552.73" x2="917.56" y2="412.23"/>
<line x1="648.07" y1="587.86" x2="929.27" y2="447.36"/>
<line x1="671.49" y1="622.99" x2="952.69" y2="482.49"/>
<line x1="683.2" y1="658.12" x2="964.4" y2="517.62"/>
</g>
<rect x="281" y="9.8" width="875.2" height="758.3" fill="none" stroke="#000" stroke-width="4.3"/>
<rect x="273.6" y="156.1" width="6" height="6.8" fill="#000"/>
<rect x="1158" y="156.1" width="6.5" height="6.8" fill="#000"/>
<rect x="273.6" y="335.6" width="6" height="6.8" fill="#000"/>
<rect x="1158" y="335.6" width="6.5" height="6.8" fill="#000"/>
<rect x="273.6" y="514.8" width="6" height="6.8" fill="#000"/>
<rect x="1158" y="514.8" width="6.5" height="6.8" fill="#000"/>
<rect x="273.6" y="693.4" width="6" height="6.8" fill="#000"/>
<rect x="1158" y="693.4" width="6.5" height="6.8" fill="#000"/>
<rect x="474.2" y="1.8" width="7.6" height="6.5" fill="#000"/>
<rect x="474.2" y="769.5" width="7.6" height="6.5" fill="#000"/>
<rect x="719.2" y="1.8" width="7.6" height="6.5" fill="#000"/>
<rect x="719.2" y="769.5" width="7.6" height="6.5" fill="#000"/>
<rect x="964.2" y="1.8" width="7.6" height="6.5" fill="#000"/>
<rect x="964.2" y="769.5" width="7.6" height="6.5" fill="#000"/>
<rect x="1280.9" y="82.7" width="711.2" height="706.1" fill="none" stroke="#000" stroke-width="3.8"/>
<rect x="1273.8" y="112.8" width="6" height="3" fill="#000"/>
<rect x="1273.8" y="204.22" width="6" height="3" fill="#000"/>
<rect x="1273.8" y="295.64" width="6" height="3" fill="#000"/>
<rect x="1273.8" y="387.06" width="6" height="3" fill="#000"/>
<rect x="1273.8" y="478.48" width="6" height="3" fill="#000"/>
<rect x="1273.8" y="569.9" width="6" height="3" fill="#000"/>
<rect x="1273.8" y="661.32" width="6" height="3" fill="#000"/>
<rect x="1273.8" y="752.74" width="6" height="3" fill="#000"/>
<rect x="1294.28" y="789.5" width="6" height="6.2" fill="#000"/>
<rect x="1457.54" y="789.5" width="6" height="6.2" fill="#000"/>
<rect x="1620.8" y="789.5" width="6" height="6.2" fill="#000"/>
<rect x="1784.06" y="789.5" width="6" height="6.2" fill="#000"/>
<rect x="1947.32" y="789.5" width="6" height="6.2" fill="#000"/>
<rect x="690.8" y="948.8" width="711" height="706.6" fill="none" stroke="#000" stroke-width="3.8"/>
<rect x="683.6" y="1052.1" width="6" height="3" fill="#000"/>
<rect x="683.6" y="1163.5" width="6" height="3" fill="#000"/>
<rect x="683.6" y="1274.9" width="6" height="3" fill="#000"/>
<rect x="683.6" y="1386.3" width="6" height="3" fill="#000"/>
<rect x="683.6" y="1497.7" width="6" height="3" fill="#000"/>
<rect x="683.6" y="1609.1" width="6" height="3" fill="#000"/>
<rect x="719.8" y="1656" width="6" height="6.2" fill="#000"/>
<rect x="879.4" y="1656" width="6" height="6.2" fill="#000"/>
<rect x="1039" y="1656" width="6" height="6.2" fill="#000"/>
<rect x="1198.6" y="1656" width="6" height="6.2" fill="#000"/>
<rect x="1358.2" y="1656" width="6" height="6.2" fill="#000"/>
<path d="M1312.9 565.4V614M1412.3 461.6V677.5M1458.7 650.7V723.2M1510.3 676.7V726.5M1557.3 695.2V716.3M1593.6 722.6V757.5M1665.3 683.4V744.2M1707.4 522.7V580.7M1761.7 456.7V588M1806.8 568.4V706.1M1860.3 536V654.6M1960.6 458V628.1" stroke="#1f77b4" stroke-width="4.0" fill="none"/>
<path d="M1306.8 565.4h12.2M1306.8 614h12.2M1406.2 461.6h12.2M1406.2 677.5h12.2M1452.6 650.7h12.2M1452.6 723.2h12.2M1504.2 676.7h12.2M1504.2 726.5h12.2M1551.2 695.2h12.2M1551.2 716.3h12.2M1587.5 722.6h12.2M1587.5 757.5h12.2M1659.2 683.4h12.2M1659.2 744.2h12.2M1701.3 522.7h12.2M1701.3 580.7h12.2M1755.6 456.7h12.2M1755.6 588h12.2M1800.7 568.4h12.2M1800.7 706.1h12.2M1854.2 536h12.2M1854.2 654.6h12.2M1954.5 458h12.2M1954.5 628.1h12.2" stroke="#1f77b4" stroke-width="1.9" stroke-linecap="round" fill="none"/>
<polyline points="1312.9,588.5 1412.3,569.3 1458.7,685 1510.3,700.6 1557.3,705.5 1593.6,738.9 1665.3,713.4 1707.4,551.3 1761.7,521.9 1806.8,636 1860.3,594.8 1960.6,542.9" fill="none" stroke="#1f77b4" stroke-width="3.6" stroke-linejoin="round" stroke-linecap="butt"/>
<path fill="#008000" d="M1350.25 104.95L1369.55 104.95L1359.9 124.25z"/>
<path fill="#008000" d="M1897.75 196.55L1917.05 196.55L1907.4 215.85z"/>
<rect x="1449.7" y="98.1" width="374.8" height="104.3" rx="7" fill="#fff" fill-opacity="0.8" stroke="#d9d9d9" stroke-width="1.6"/>
<path fill="#008000" d="M1483.55 117.95L1502.85 117.95L1493.2 137.25z"/>
<path d="M1459.7 171.2H1526.9M1493.2 155.8V188.3" stroke="#1f77b4" stroke-width="3.8" fill="none"/><path d="M1487.1 155.8h12.2M1487.1 188.3h12.2" stroke="#1f77b4" stroke-width="1.9" stroke-linecap="round" fill="none"/>
<path d="M738.4 1397.4V1439.1M835.6 1305.5V1490.3M880.8 1497.8V1559.7M930.9 1528.4V1570M974.8 1546.7V1564.2M1012.8 1595V1623.6M1082.6 1540.1V1592.5M1122.7 1354.7V1404.5M1176.5 1292.6V1406.4M1220.2 1411.1V1528.6M1272.7 1373.6V1475.3M1369.7 1298.4V1443.9" stroke="#1f77b4" stroke-width="4.0" fill="none"/>
<path d="M732.3 1397.4h12.2M732.3 1439.1h12.2M829.5 1305.5h12.2M829.5 1490.3h12.2M874.7 1497.8h12.2M874.7 1559.7h12.2M924.8 1528.4h12.2M924.8 1570h12.2M968.7 1546.7h12.2M968.7 1564.2h12.2M1006.7 1595h12.2M1006.7 1623.6h12.2M1076.5 1540.1h12.2M1076.5 1592.5h12.2M1116.6 1354.7h12.2M1116.6 1404.5h12.2M1170.4 1292.6h12.2M1170.4 1406.4h12.2M1214.1 1411.1h12.2M1214.1 1528.6h12.2M1266.6 1373.6h12.2M1266.6 1475.3h12.2M1363.6 1298.4h12.2M1363.6 1443.9h12.2" stroke="#1f77b4" stroke-width="1.9" stroke-linecap="round" fill="none"/>
<path d="M738.4 1397.4V1439.1M835.6 1305.5V1490.3M880.8 1497.8V1559.7M930.9 1528.4V1570M974.8 1546.7V1564.2M1012.8 1595V1623.6M1082.6 1540.1V1592.5M1220.2 1411.1V1528.6M1272.7 1373.6V1475.3M1369.7 1298.4V1443.9" stroke="#000" stroke-width="4.0" fill="none"/>
<path d="M732.3 1397.4h12.2M732.3 1439.1h12.2M829.5 1305.5h12.2M829.5 1490.3h12.2M874.7 1497.8h12.2M874.7 1559.7h12.2M924.8 1528.4h12.2M924.8 1570h12.2M968.7 1546.7h12.2M968.7 1564.2h12.2M1006.7 1595h12.2M1006.7 1623.6h12.2M1076.5 1540.1h12.2M1076.5 1592.5h12.2M1214.1 1411.1h12.2M1214.1 1528.6h12.2M1266.6 1373.6h12.2M1266.6 1475.3h12.2M1363.6 1298.4h12.2M1363.6 1443.9h12.2" stroke="#000" stroke-width="1.9" stroke-linecap="round" fill="none"/>
<polyline points="721.7,1413.1 1041.2,1595" fill="none" stroke="#ff0000" stroke-width="4.6"/>
<polyline points="1039.3,1593.3 1361.3,1367.8" fill="none" stroke="#ff0000" stroke-width="4.6"/>
<polyline points="738.4,1418.8 835.6,1396.9 880.8,1527.9 930.9,1547.9 974.8,1555.4 1012.8,1608.2 1082.6,1564.5 1122.7,1379.1 1176.5,1348.7 1220.2,1468.3 1272.7,1425.5 1369.7,1370.5" fill="none" stroke="#1f77b4" stroke-width="3.8" stroke-linejoin="round" stroke-linecap="butt"/>
<polyline points="738.4,1418.8 835.6,1396.9 880.8,1527.9 930.9,1547.9 974.8,1555.4 1012.8,1608.2 1082.6,1564.5 1220.2,1468.3 1272.7,1425.5 1369.7,1370.5" fill="none" stroke="#000" stroke-width="4.0" stroke-linejoin="round" stroke-linecap="butt"/>
<path fill="#008000" d="M774.75 972.05L794.05 972.05L784.4 991.35z"/>
<path fill="#008000" d="M1308.25 1049.85L1327.55 1049.85L1317.9 1069.15z"/>
<rect x="859.3" y="965.4" width="374.7" height="197.4" rx="7" fill="#fff" fill-opacity="0.8" stroke="#d9d9d9" stroke-width="1.6"/>
<path d="M869.7 991.2H936.9" stroke="#ff0000" stroke-width="4" fill="none"/>
<path fill="#008000" d="M893.55 1031.65L912.85 1031.65L903.2 1050.95z"/>
<path d="M869.7 1085.4H936.9M903.2 1069.3V1102" stroke="#1f77b4" stroke-width="3.8" fill="none"/><path d="M897.1 1069.3h12.2M897.1 1102h12.2" stroke="#1f77b4" stroke-width="1.9" stroke-linecap="round" fill="none"/>
<path d="M869.7 1131.9H936.9M903.2 1117V1149.9" stroke="#000" stroke-width="3.8" fill="none"/><path d="M897.1 1117h12.2M897.1 1149.9h12.2" stroke="#000" stroke-width="1.9" stroke-linecap="round" fill="none"/>
<text x="344.98" y="99.9" font-size="47.3">(a)</text>
<text x="56.22" y="170.7" font-size="39">-24°36'22&quot;</text>
<text x="199.74" y="350.5" font-size="39">24&quot;</text>
<text x="199.74" y="530.3" font-size="39">26&quot;</text>
<text x="199.74" y="709" font-size="39">28&quot;</text>
<text x="353.91" y="813.4" font-size="39">16</text>
<text x="404.01" y="797.3" font-size="26.52">h</text>
<text x="421.47" y="813.4" font-size="39">28</text>
<text x="472.11" y="797.3" font-size="26.52">m</text>
<text x="499.68" y="813.4" font-size="39">21.8</text>
<text x="586.34" y="797.3" font-size="26.52">s</text>
<text x="670.08" y="813.4" font-size="39">21.6</text>
<text x="756.54" y="797.3" font-size="26.52">s</text>
<text x="915.68" y="813.4" font-size="39">21.4</text>
<text x="1002.04" y="797.3" font-size="26.52">s</text>
<text x="687.77" y="872.3" font-size="38.1" font-weight="bold">RA</text>
<text transform="translate(31 435.1) rotate(-90)" font-size="38.9" font-weight="bold">Dec</text>
<text x="1219.7" y="126.8" font-size="31.8">1.0</text>
<text x="1219.86" y="218.22" font-size="31.8">0.9</text>
<text x="1219.7" y="309.64" font-size="31.8">0.8</text>
<text x="1220.34" y="401.06" font-size="31.8">0.7</text>
<text x="1219.55" y="492.48" font-size="31.8">0.6</text>
<text x="1220.34" y="583.9" font-size="31.8">0.5</text>
<text x="1219.39" y="675.32" font-size="31.8">0.4</text>
<text x="1220.18" y="766.74" font-size="31.8">0.3</text>
<text x="1253.6" y="824.5" font-size="31.8">−400</text>
<text x="1416.86" y="824.5" font-size="31.8">−200</text>
<text x="1614.3" y="824.5" font-size="31.8">0</text>
<text x="1757.13" y="824.5" font-size="31.8">200</text>
<text x="1920.79" y="824.5" font-size="31.8">400</text>
<text x="1297.33" y="861.2" font-size="31.9" font-weight="bold">Distance from the central source [au]</text>
<text transform="translate(1203.46 592.65) rotate(-90)" font-size="31.8" font-weight="bold">Jet width [arcsec]</text>
<text x="1316.98" y="251.7" font-size="38.2">North</text>
<text x="1872.9" y="251.6" font-size="38.4">South</text>
<text x="1930.03" y="160.6" font-size="38.5">(b)</text>
<text x="1548.57" y="135.9" font-size="32.1">Upper limit</text>
<text x="1549.53" y="182.9" font-size="32.1">Observed points</text>
<text x="619.63" y="1066.1" font-size="31.8">120</text>
<text x="619.63" y="1177.5" font-size="31.8">100</text>
<text x="639.98" y="1288.9" font-size="31.8">80</text>
<text x="639.98" y="1400.3" font-size="31.8">60</text>
<text x="639.98" y="1511.7" font-size="31.8">40</text>
<text x="639.98" y="1623.1" font-size="31.8">20</text>
<text x="679.12" y="1690.8" font-size="31.8">−400</text>
<text x="838.72" y="1690.8" font-size="31.8">−200</text>
<text x="1032.5" y="1690.8" font-size="31.8">0</text>
<text x="1171.67" y="1690.8" font-size="31.8">200</text>
<text x="1331.67" y="1690.8" font-size="31.8">400</text>
<text x="707.53" y="1727.1" font-size="31.9" font-weight="bold">Distance from the central source [au]</text>
<text transform="translate(605.15 1543.87) rotate(-90)" font-size="31.85" font-weight="bold">Deconvolved jet width [au]</text>
<text x="742.29" y="1109.4" font-size="38.1">North</text>
<text x="1285.03" y="1109.6" font-size="38.05">South</text>
<text x="1340.73" y="1000.3" font-size="38.5">(c)</text>
<text x="959.09" y="1001.9" font-size="32.1">Fit</text>
<text x="959.57" y="1049.6" font-size="32.1">Upper limit</text>
<text x="960.53" y="1096" font-size="32.1">Observed points</text>
<text x="959.09" y="1143.1" font-size="32.1">Fitted points</text>
</svg>
</body></html>
